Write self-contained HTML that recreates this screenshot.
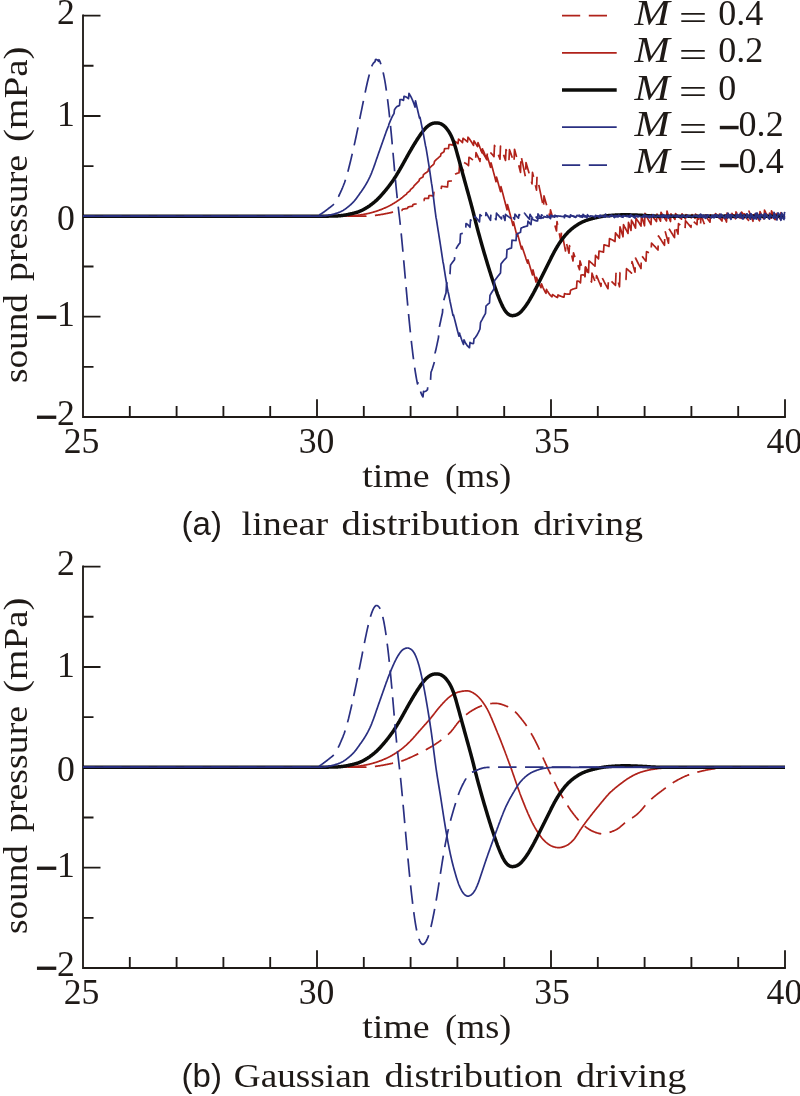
<!DOCTYPE html>
<html lang="en"><head><meta charset="utf-8"><title>Sound pressure vs time</title>
<style>
html,body{margin:0;padding:0;background:#fff;}
body{width:800px;height:1096px;overflow:hidden;}
svg{display:block;}
.t{font-family:"Liberation Serif","DejaVu Serif",serif;font-size:35.0px;fill:#1f1a17;}
.l{font-size:34px;}
.i{font-style:italic;}
.m{font-family:"Liberation Serif","DejaVu Serif",serif;font-size:35px;font-weight:bold;fill:#1f1a17;}
.s{font-family:"Liberation Sans","DejaVu Sans",sans-serif;font-size:33px;fill:#1f1a17;}
</style></head><body>
<svg width="800" height="1096" viewBox="0 0 800 1096">
<rect width="800" height="1096" fill="#fff"/>
<g id="plotA">
<path d="M83 14.60 V417.00 H785.9" fill="none" stroke="#1f1a17" stroke-width="1.85"/>
<path d="M83 15.60 h17.5M83 65.77 h10.5M83 115.95 h17.5M83 166.12 h10.5M83 216.30 h17.5M83 266.48 h10.5M83 316.65 h17.5M83 366.82 h10.5M129.80 417.00 v-11.0M176.60 417.00 v-11.0M223.40 417.00 v-11.0M270.20 417.00 v-11.0M317.00 417.00 v-17.7M363.80 417.00 v-11.0M410.60 417.00 v-11.0M457.40 417.00 v-11.0M504.20 417.00 v-11.0M551.00 417.00 v-17.7M597.80 417.00 v-11.0M644.60 417.00 v-11.0M691.40 417.00 v-11.0M738.20 417.00 v-11.0M785.00 417.00 v-17.7" fill="none" stroke="#1f1a17" stroke-width="1.85"/>
<path d="M83.0 216.2 L363.0 216.2 L364.0 216.2 L364.5 216.2 L365.0 216.2 L365.5 216.2 L366.0 216.2 L366.5 216.1 L367.0 216.1 L367.5 216.1 L368.0 216.1 L368.5 216.0 L369.0 216.0 L369.5 216.0 L370.0 215.9 L370.5 215.9 L371.0 215.8 L371.5 215.8 L372.0 215.8 L372.5 215.7 L373.0 215.6 L373.5 215.6 L374.0 215.5 L374.5 215.5 L375.0 215.4 L375.5 215.4 L376.0 215.3 L376.5 215.2 L377.0 215.2 L377.5 215.1 L378.0 215.0 L378.5 214.9 L379.0 214.9 L379.5 214.8 L380.0 214.7 L380.5 214.6 L381.0 214.5 L381.5 214.4 L382.0 214.4 L382.5 214.3 L383.0 214.2 L383.5 214.1 L384.0 214.0 L384.5 213.9 L385.0 213.8 L385.5 213.7 L386.0 213.6 L386.5 213.5 L387.0 213.4 L387.5 213.3 L388.0 213.2 L388.5 213.1 L389.0 213.0 L389.5 212.9 L390.0 212.8 L390.5 212.7 L391.0 212.6 L391.5 212.4 L392.0 212.3 L392.5 212.2 L393.0 212.1 L393.5 212.0 L394.0 211.9 L394.5 211.9 L395.0 211.8 L395.5 211.7 L396.0 211.2 L396.5 211.1 L397.0 211.1 L397.5 211.0 L398.0 210.9 L398.5 210.8 L399.0 210.7 L399.5 210.7 L400.0 210.6 L400.5 210.5 L401.0 210.4 L401.5 210.4 L402.0 210.3 L402.5 209.3 L403.0 209.2 L403.5 209.1 L404.0 209.0 L404.5 208.9 L405.0 208.8 L405.5 208.7 L406.0 208.6 L406.5 208.6 L407.0 208.5 L407.5 208.4 L408.0 207.0 L408.5 206.9 L409.0 206.8 L409.5 206.7 L410.0 206.6 L410.5 206.5 L411.0 206.4 L411.5 206.4 L412.0 206.3 L412.5 206.2 L413.0 204.5 L413.5 204.4 L414.0 204.3 L414.5 204.2 L415.0 204.1 L415.5 204.0 L416.0 204.0 L416.5 203.9 L417.0 203.8 L417.5 203.8 L418.0 203.7 L418.5 203.7 L419.0 201.8 L419.5 201.7 L420.0 201.5 L420.5 201.4 L421.0 201.2 L421.5 201.1 L422.0 201.0 L422.5 200.8 L423.0 200.7 L423.5 200.6 L424.0 200.5 L424.5 198.4 L425.0 198.4 L425.5 198.4 L426.5 198.4 L427.0 198.4 L427.5 198.4 L428.0 198.5 L428.5 198.5 L429.0 195.5 L429.5 195.5 L430.0 195.5 L430.5 195.6 L431.0 195.6 L431.5 195.7 L432.0 195.8 L432.5 195.9 L433.0 195.9 L433.5 196.0 L434.0 192.5 L434.5 192.3 L435.0 192.2 L435.5 192.1 L436.0 192.0 L436.5 191.9 L437.0 191.8 L437.5 191.7 L438.0 191.6 L438.5 191.5 L439.0 191.5 L439.5 191.4 L440.0 191.3 L440.5 191.2 L441.0 191.1 L441.5 186.3 L442.0 186.4 L442.5 186.4 L443.0 186.5 L443.5 186.5 L444.0 186.5 L444.5 186.6 L445.0 186.7 L445.5 186.7 L446.0 186.8 L446.5 186.9 L447.0 186.9 L447.5 187.0 L448.0 181.3 L448.5 181.3 L449.0 181.2 L449.5 181.2 L450.0 181.1 L450.5 181.0 L451.0 181.0 L451.5 180.9 L452.0 180.8 L452.5 180.7 L453.0 180.7 L453.5 175.2 L454.0 174.9 L454.5 174.6 L455.0 174.3 L455.5 174.0 L456.0 173.8 L456.5 173.6 L457.0 173.4 L457.5 173.2 L458.0 173.0 L458.5 172.9 L459.0 172.9 L459.5 165.4 L460.0 165.9 L460.5 166.5 L461.0 167.1 L461.5 167.7 L462.0 168.4 L462.5 169.2 L463.0 170.0 L463.5 170.8 L464.0 162.4 L464.5 162.7 L465.0 163.0 L465.5 163.2 L466.0 163.6 L466.5 163.9 L467.0 164.3 L467.5 164.7 L468.0 165.1 L468.5 165.6 L469.0 157.3 L469.5 157.5 L470.0 157.8 L470.5 158.2 L471.0 158.5 L471.5 158.9 L472.0 159.3 L472.5 159.7 L473.0 160.2 L473.5 160.6 L474.0 161.1 L474.5 161.6 L475.0 162.1 L475.5 162.6 L476.0 152.5 L476.5 153.6 L477.0 154.7 L477.5 155.7 L478.0 156.8 L478.5 157.9 L479.0 159.1 L479.5 160.2 L480.0 161.4 L480.5 149.6 L481.0 150.3 L481.5 151.0 L482.0 151.8 L482.5 152.5 L483.0 153.3 L483.5 154.0 L484.0 154.8 L484.5 155.6 L485.0 156.5 L485.5 157.3 L486.0 158.1 L486.5 159.0 L487.0 159.9 L487.5 149.3 L488.0 149.8 L488.5 150.4 L489.0 150.9 L489.5 151.4 L490.0 152.0 L490.5 152.5 L491.0 153.1 L491.5 153.6 L492.0 154.2 L492.5 154.8 L493.0 155.4 L493.5 156.0 L494.0 156.6 L494.5 145.3 L495.0 146.5 L495.5 147.7 L496.0 148.9 L496.5 150.1 L497.0 151.3 L497.5 152.6 L498.0 153.9 L498.5 155.1 L499.0 156.5 L499.5 157.8 L500.0 159.1 L500.5 146.0 L501.0 147.4 L501.5 148.8 L502.0 150.2 L502.5 151.6 L503.0 153.0 L503.5 154.5 L504.0 155.9 L504.5 157.4 L505.0 158.9 L505.5 160.4 L506.0 149.6 L506.5 151.2 L507.0 152.9 L507.5 154.5 L508.0 156.2 L508.5 157.9 L509.0 159.5 L509.5 149.7 L510.0 151.1 L510.5 152.5 L511.0 153.9 L511.5 155.4 L512.0 156.8 L512.5 158.3 L513.0 159.8 L513.5 161.3 L514.0 162.9 L514.5 149.3 L515.0 151.1 L515.5 152.9 L516.0 154.7 L516.5 156.6 L517.0 158.5 L517.5 160.4 L518.0 162.3 L518.5 164.3 L519.0 166.3 L519.5 168.3 L520.0 170.4 L520.5 172.4 L521.0 155.5 L521.5 157.9 L522.0 160.3 L522.5 162.7 L523.0 165.1 L523.5 167.5 L524.0 169.9 L524.5 172.3 L525.0 174.8 L525.5 177.2 L526.0 162.5 L526.5 164.3 L527.0 166.0 L527.5 167.7 L528.0 169.4 L528.5 171.2 L529.0 173.0 L529.5 174.8 L530.0 176.6 L530.5 178.4 L531.0 180.2 L531.5 182.0 L532.0 183.9 L532.5 172.4 L533.0 174.6 L533.5 176.8 L534.0 179.0 L534.5 181.2 L535.0 183.4 L535.5 185.6 L536.0 187.9 L536.5 190.1 L537.0 176.6 L537.5 178.9 L538.0 181.2 L538.5 183.6 L539.0 185.9 L539.5 188.3 L540.0 190.6 L540.5 193.1 L541.0 195.5 L541.5 198.0 L542.0 200.4 L542.5 202.9 L543.0 205.5 L543.5 208.0 L544.0 195.9 L544.5 197.7 L545.0 199.4 L545.5 201.2 L546.0 203.0 L546.5 204.7 L547.0 206.5 L547.5 208.2 L548.0 210.0 L548.5 211.8 L549.0 213.5 L549.5 215.2 L550.0 217.0 L550.5 209.9 L551.0 211.7 L551.5 213.5 L552.0 215.2 L552.5 217.0 L553.0 218.7 L553.5 220.5 L554.0 222.2 L554.5 224.0 L555.0 225.7 L555.5 227.4 L556.0 229.2 L556.5 230.9 L557.0 221.5 L557.5 224.1 L558.0 226.7 L558.5 229.3 L559.0 231.9 L559.5 234.4 L560.0 237.0 L560.5 239.5 L561.0 242.1 L561.5 230.3 L562.0 232.9 L562.5 235.5 L563.0 238.1 L563.5 240.7 L564.0 243.3 L564.5 245.9 L565.0 248.5 L565.5 251.0 L566.0 241.5 L566.5 243.4 L567.0 245.4 L567.5 247.4 L568.0 249.3 L568.5 251.3 L569.0 253.2 L569.5 245.7 L570.0 247.9 L570.5 250.1 L571.0 252.3 L571.5 254.5 L572.0 256.6 L572.5 258.8 L573.0 261.0 L573.5 252.8 L574.0 254.3 L574.5 255.7 L575.0 257.2 L575.5 258.6 L576.0 260.0 L576.5 261.4 L577.0 262.8 L577.5 264.2 L578.0 265.5 L578.5 266.9 L579.0 268.3 L579.5 269.6 L580.0 260.9 L580.5 262.5 L581.0 264.2 L581.5 265.8 L582.0 267.4 L582.5 269.0 L583.0 270.6 L583.5 272.2 L584.0 273.7 L584.5 275.3 L585.0 276.8 L585.5 267.4 L586.0 268.7 L586.5 270.0 L587.0 271.2 L587.5 272.5 L588.0 273.7 L588.5 274.9 L589.0 276.1 L589.5 277.3 L590.0 278.5 L590.5 279.7 L591.0 280.8 L591.5 282.0 L592.0 273.2 L592.5 274.6 L593.0 276.0 L593.5 277.3 L594.0 278.7 L594.5 280.0 L595.0 281.4 L595.5 282.7 L596.0 284.0 L596.5 275.5 L597.0 276.7 L597.5 277.9 L598.0 279.2 L598.5 280.4 L599.0 281.6 L599.5 282.7 L600.0 283.9 L600.5 285.1 L601.0 286.3 L601.5 276.2 L602.0 277.2 L602.5 278.3 L603.0 279.3 L603.5 280.3 L604.0 281.4 L604.5 282.3 L605.0 283.3 L605.5 284.3 L606.0 285.2 L606.5 286.1 L607.0 287.0 L607.5 287.9 L608.0 288.7 L608.5 278.2 L609.0 278.8 L609.5 279.3 L610.0 279.9 L610.5 280.4 L611.0 280.9 L611.5 281.4 L612.0 281.9 L612.5 282.4 L613.0 282.9 L613.5 283.4 L614.0 283.9 L614.5 284.4 L615.0 284.8 L615.5 285.3 L616.0 273.4 L616.5 275.4 L617.0 277.3 L617.5 279.2 L618.0 281.1 L618.5 283.0 L619.0 284.9 L619.5 286.8 L620.0 272.7 L620.5 273.4 L621.0 274.0 L621.5 274.7 L622.0 275.3 L622.5 275.8 L623.0 276.4 L623.5 276.9 L624.0 277.4 L624.5 277.9 L625.0 278.4 L625.5 278.9 L626.0 279.4 L626.5 268.7 L627.0 269.1 L627.5 269.5 L628.0 269.9 L628.5 270.3 L629.0 270.8 L629.5 271.2 L630.0 271.7 L630.5 272.2 L631.0 272.6 L631.5 273.1 L632.0 261.5 L632.5 263.3 L633.0 265.1 L633.5 266.9 L634.0 268.6 L634.5 270.4 L635.0 272.1 L635.5 258.0 L636.0 259.0 L636.5 260.0 L637.0 261.0 L637.5 262.0 L638.0 263.0 L638.5 264.0 L639.0 264.9 L639.5 265.8 L640.0 266.7 L640.5 267.6 L641.0 268.5 L641.5 255.2 L642.0 256.0 L642.5 256.7 L643.0 257.4 L643.5 258.0 L644.0 258.7 L644.5 259.3 L645.0 260.0 L645.5 260.6 L646.0 261.2 L646.5 251.7 L647.0 251.9 L647.5 252.1 L648.0 252.3 L648.5 252.5 L649.0 252.7 L649.5 252.9 L650.0 253.1 L650.5 253.4 L651.0 253.7 L651.5 243.0 L652.0 243.5 L652.5 244.0 L653.0 244.5 L653.5 245.1 L654.0 245.6 L654.5 246.1 L655.0 246.7 L655.5 247.2 L656.0 247.8 L656.5 248.3 L657.0 248.9 L657.5 249.4 L658.0 250.0 L658.5 235.9 L659.0 236.7 L659.5 237.5 L660.0 238.3 L660.5 239.1 L661.0 239.8 L661.5 240.6 L662.0 241.4 L662.5 242.2 L663.0 243.0 L663.5 243.8 L664.0 244.5 L664.5 245.3 L665.0 230.9 L665.5 232.6 L666.0 234.4 L666.5 236.2 L667.0 238.0 L667.5 239.7 L668.0 241.5 L668.5 243.2 L669.0 228.7 L669.5 229.5 L670.0 230.3 L670.5 231.1 L671.0 231.9 L671.5 232.7 L672.0 233.5 L672.5 234.3 L673.0 235.2 L673.5 236.0 L674.0 236.8 L674.5 237.6 L675.0 225.1 L675.5 226.6 L676.0 228.1 L676.5 229.6 L677.0 231.1 L677.5 232.6 L678.0 234.1 L678.5 223.5 L679.0 224.0 L679.5 224.5 L680.0 224.9 L680.5 225.4 L681.0 225.9 L681.5 226.4 L682.0 226.9 L682.5 227.4 L683.0 227.9 L683.5 228.4 L684.0 228.9 L684.5 229.4 L685.0 229.9 L685.5 220.7 L686.0 221.3 L686.5 221.9 L687.0 222.5 L687.5 223.1 L688.0 223.7 L688.5 224.3 L689.0 224.9 L689.5 225.5 L690.0 226.1 L690.5 226.7 L691.0 227.3 L691.5 219.5 L692.0 220.0 L692.5 220.4 L693.0 220.9 L693.5 221.4 L694.0 221.8 L694.5 222.3 L695.0 222.8 L695.5 223.2 L696.0 223.7 L696.5 224.2 L697.0 224.6 L697.5 215.3 L698.0 217.1 L698.5 218.8 L699.0 220.6 L699.5 222.4 L700.0 224.2 L700.5 225.9 L701.0 215.0 L701.5 216.3 L702.0 217.7 L702.5 219.0 L703.0 220.4 L703.5 221.7 L704.0 223.1 L704.5 224.4 L705.0 215.3 L705.5 216.0 L706.0 216.7 L706.5 217.4 L707.0 218.1 L707.5 218.8 L708.0 219.5 L708.5 220.1 L709.0 220.8 L709.5 221.5 L710.0 222.2 L710.5 214.9 L711.0 215.5 L711.5 216.2 L712.0 216.8 L712.5 217.5 L713.0 218.1 L713.5 218.8 L714.0 219.4 L714.5 220.1 L715.0 220.7 L715.5 213.5 L716.0 214.1 L716.5 214.7 L717.0 215.2 L717.5 215.8 L718.0 216.4 L718.5 217.0 L719.0 217.5 L719.5 218.1 L720.0 218.7 L720.5 219.2 L721.0 219.8 L721.5 220.4 L722.0 221.0 L722.5 211.9 L723.0 213.1 L723.5 214.4 L724.0 215.6 L724.5 216.9 L725.0 218.2 L725.5 219.4 L726.0 220.7 L726.5 222.0 L727.0 213.1 L727.5 213.8 L728.0 214.6 L728.5 215.3 L729.0 216.0 L729.5 216.8 L730.0 217.5 L730.5 218.2 L731.0 219.0 L731.5 219.7 L732.0 213.4 L732.5 214.2 L733.0 214.9 L733.5 215.7 L734.0 216.5 L734.5 217.3 L735.0 218.0 L735.5 218.8 L736.0 211.9 L736.5 212.7 L737.0 213.5 L737.5 214.3 L738.0 215.1 L738.5 215.9 L739.0 216.8 L739.5 217.6 L740.0 218.4 L740.5 219.2 L741.0 220.0 L741.5 212.0 L742.0 212.6 L742.5 213.2 L743.0 213.8 L743.5 214.4 L744.0 215.0 L744.5 215.6 L745.0 216.2 L745.5 216.8 L746.0 217.4 L746.5 218.0 L747.0 218.6 L747.5 219.2 L748.0 219.8 L748.5 220.4 L749.0 211.2 L749.5 212.5 L750.0 213.7 L750.5 215.0 L751.0 216.3 L751.5 217.5 L752.0 218.8 L752.5 220.0 L753.0 221.3 L753.5 211.3 L754.0 212.1 L754.5 212.9 L755.0 213.7 L755.5 214.5 L756.0 215.3 L756.5 216.1 L757.0 216.9 L757.5 217.7 L758.0 218.4 L758.5 219.2 L759.0 220.0 L759.5 220.8 L760.0 211.5 L760.5 212.7 L761.0 213.9 L761.5 215.0 L762.0 216.2 L762.5 217.4 L763.0 218.5 L763.5 219.7 L764.0 220.9 L764.5 210.1 L765.0 211.1 L765.5 212.1 L766.0 213.1 L766.5 214.0 L767.0 215.0 L767.5 216.0 L768.0 217.0 L768.5 218.0 L769.0 219.0 L769.5 220.0 L770.0 221.0 L770.5 221.9 L771.0 222.9 L771.5 210.8 L772.0 211.9 L772.5 213.1 L773.0 214.2 L773.5 215.4 L774.0 216.5 L774.5 217.7 L775.0 218.8 L775.5 220.0 L776.0 221.1 L776.5 222.3 L777.0 213.3 L777.5 214.2 L778.0 215.1 L778.5 215.9 L779.0 216.8 L779.5 217.7 L780.0 218.5 L780.5 219.4 L781.0 212.6 L781.5 213.2 L782.0 213.8 L782.5 214.4 L783.0 215.0 L783.5 215.6 L784.0 216.2 L784.5 216.8 L785.0 217.4" fill="none" stroke="#b0221a" stroke-width="1.70" stroke-linejoin="round" stroke-dasharray="18.5 8.5" stroke-dashoffset="5.0"/>
<path d="M83.0 216.2 L336.5 216.2 L338.0 216.2 L339.0 216.2 L340.0 216.2 L341.0 216.2 L342.0 216.2 L343.0 216.1 L343.5 216.1 L344.0 216.1 L344.5 216.1 L345.0 216.1 L345.5 216.1 L346.0 216.1 L346.5 216.1 L347.0 216.0 L347.5 216.0 L348.0 216.0 L348.5 216.0 L349.0 216.0 L349.5 215.9 L350.0 215.9 L350.5 215.9 L351.0 215.8 L351.5 215.8 L352.0 215.8 L352.5 215.7 L353.0 215.7 L353.5 215.7 L354.0 215.6 L354.5 215.6 L355.0 215.5 L355.5 215.5 L356.0 215.4 L356.5 215.4 L357.0 215.3 L357.5 215.3 L358.0 215.2 L358.5 215.2 L359.0 215.1 L359.5 215.0 L360.0 215.0 L360.5 214.9 L361.0 214.8 L361.5 214.7 L362.0 214.7 L362.5 214.6 L363.0 214.5 L363.5 214.4 L364.0 214.3 L364.5 214.2 L365.0 214.1 L365.5 214.0 L366.0 213.9 L366.5 213.8 L367.0 213.7 L367.5 213.6 L368.0 213.5 L368.5 213.4 L369.0 213.3 L369.5 213.2 L370.0 213.0 L370.5 212.9 L371.0 212.8 L371.5 212.6 L372.0 212.5 L372.5 212.4 L373.0 212.2 L373.5 212.1 L374.0 211.9 L374.5 211.8 L375.0 211.6 L375.5 211.5 L376.0 211.3 L376.5 211.2 L377.0 211.0 L377.5 210.8 L378.0 210.7 L378.5 210.5 L379.0 210.3 L379.5 210.1 L380.0 209.9 L380.5 209.7 L381.0 209.6 L381.5 209.4 L382.0 209.2 L382.5 208.9 L383.0 208.7 L383.5 208.5 L384.0 208.3 L384.5 208.1 L385.0 207.9 L385.5 207.7 L386.0 207.4 L386.5 207.2 L387.0 207.0 L387.5 206.7 L388.0 206.5 L388.5 206.2 L389.0 206.0 L389.5 205.7 L390.0 205.5 L390.5 205.2 L391.0 204.9 L391.5 204.7 L392.0 204.4 L392.5 204.1 L393.0 203.8 L393.5 203.5 L394.0 203.2 L394.5 202.9 L395.0 202.6 L395.5 202.3 L396.0 202.0 L396.5 201.6 L397.0 201.3 L397.5 201.0 L398.0 200.6 L398.5 200.3 L399.0 199.9 L399.5 199.6 L400.0 199.2 L400.5 198.9 L401.0 198.5 L401.5 198.1 L402.0 197.8 L402.5 197.4 L403.0 196.8 L403.5 196.4 L404.0 196.0 L404.5 195.6 L405.0 195.2 L405.5 194.8 L406.0 194.5 L406.5 194.1 L407.0 193.1 L407.5 192.7 L408.0 192.3 L408.5 191.9 L409.0 191.6 L409.5 191.2 L410.0 190.8 L410.5 189.7 L411.0 189.2 L411.5 188.8 L412.0 188.4 L412.5 187.9 L413.0 187.5 L413.5 187.0 L414.0 185.8 L414.5 185.3 L415.0 184.8 L415.5 184.3 L416.0 183.8 L416.5 183.3 L417.0 182.8 L417.5 182.3 L418.0 181.8 L418.5 181.3 L419.0 180.9 L419.5 179.1 L420.0 178.7 L420.5 178.4 L421.0 178.1 L421.5 177.8 L422.0 177.5 L422.5 177.2 L423.0 176.9 L423.5 174.5 L424.0 174.2 L424.5 173.8 L425.0 173.4 L425.5 173.1 L426.0 172.7 L426.5 172.4 L427.0 172.0 L427.5 171.7 L428.0 171.3 L428.5 168.9 L429.0 168.5 L429.5 168.0 L430.0 167.6 L430.5 167.1 L431.0 166.7 L431.5 166.2 L432.0 165.7 L432.5 165.3 L433.0 164.8 L433.5 164.3 L434.0 163.9 L434.5 161.4 L435.0 160.9 L435.5 160.4 L436.0 159.9 L436.5 159.4 L437.0 159.0 L437.5 158.5 L438.0 158.1 L438.5 157.6 L439.0 157.2 L439.5 156.8 L440.0 156.4 L440.5 156.0 L441.0 153.7 L441.5 153.4 L442.0 153.1 L442.5 152.7 L443.0 152.4 L443.5 152.1 L444.0 151.8 L444.5 148.8 L445.0 148.7 L445.5 148.6 L446.0 148.6 L446.5 148.5 L447.0 148.5 L447.5 148.5 L448.0 148.5 L448.5 148.6 L449.0 144.7 L449.5 144.7 L450.0 144.7 L450.5 144.7 L451.0 144.7 L451.5 144.8 L452.0 144.9 L452.5 145.0 L453.0 145.2 L453.5 140.9 L454.0 141.1 L454.5 141.3 L455.0 141.5 L455.5 141.8 L456.0 142.1 L456.5 142.5 L457.0 142.9 L457.5 143.3 L458.0 143.7 L458.5 139.1 L459.0 139.5 L459.5 139.9 L460.0 140.3 L460.5 140.7 L461.0 141.1 L461.5 141.6 L462.0 142.1 L462.5 142.6 L463.0 138.3 L463.5 138.6 L464.0 139.0 L464.5 139.3 L465.0 139.7 L465.5 140.2 L466.0 140.6 L466.5 141.0 L467.0 141.5 L467.5 142.0 L468.0 137.2 L468.5 137.8 L469.0 138.4 L469.5 139.1 L470.0 139.8 L470.5 140.5 L471.0 141.2 L471.5 142.0 L472.0 142.8 L472.5 143.7 L473.0 144.5 L473.5 145.4 L474.0 140.9 L474.5 141.7 L475.0 142.5 L475.5 143.3 L476.0 144.1 L476.5 144.9 L477.0 145.8 L477.5 146.7 L478.0 142.7 L478.5 143.9 L479.0 145.1 L479.5 146.3 L480.0 147.6 L480.5 148.8 L481.0 150.1 L481.5 151.4 L482.0 152.8 L482.5 148.8 L483.0 150.0 L483.5 151.1 L484.0 152.3 L484.5 153.5 L485.0 154.8 L485.5 156.0 L486.0 157.3 L486.5 158.7 L487.0 155.3 L487.5 156.9 L488.0 158.6 L488.5 160.2 L489.0 162.0 L489.5 163.7 L490.0 165.5 L490.5 167.3 L491.0 162.8 L491.5 164.6 L492.0 166.5 L492.5 168.3 L493.0 170.2 L493.5 172.1 L494.0 174.0 L494.5 175.9 L495.0 177.9 L495.5 179.8 L496.0 181.7 L496.5 177.0 L497.0 178.8 L497.5 180.6 L498.0 182.4 L498.5 184.2 L499.0 186.1 L499.5 187.9 L500.0 189.8 L500.5 191.6 L501.0 186.7 L501.5 188.6 L502.0 190.5 L502.5 192.4 L503.0 194.3 L503.5 196.2 L504.0 198.2 L504.5 200.1 L505.0 202.0 L505.5 204.0 L506.0 205.9 L506.5 207.9 L507.0 209.8 L507.5 204.5 L508.0 206.4 L508.5 208.3 L509.0 210.2 L509.5 212.1 L510.0 214.0 L510.5 215.9 L511.0 217.8 L511.5 219.7 L512.0 221.6 L512.5 223.6 L513.0 225.5 L513.5 221.8 L514.0 223.8 L514.5 225.9 L515.0 228.0 L515.5 230.0 L516.0 232.1 L516.5 234.2 L517.0 236.2 L517.5 233.3 L518.0 235.4 L518.5 237.4 L519.0 239.3 L519.5 241.3 L520.0 243.3 L520.5 245.2 L521.0 247.1 L521.5 249.0 L522.0 246.4 L522.5 248.0 L523.0 249.5 L523.5 251.1 L524.0 252.6 L524.5 254.1 L525.0 255.6 L525.5 257.1 L526.0 258.7 L526.5 260.1 L527.0 261.6 L527.5 263.1 L528.0 259.9 L528.5 261.6 L529.0 263.4 L529.5 265.1 L530.0 266.8 L530.5 268.5 L531.0 270.1 L531.5 271.8 L532.0 273.4 L532.5 275.0 L533.0 269.9 L533.5 272.0 L534.0 274.0 L534.5 276.1 L535.0 278.1 L535.5 280.1 L536.0 282.1 L536.5 277.3 L537.0 278.5 L537.5 279.7 L538.0 280.9 L538.5 282.1 L539.0 283.3 L539.5 284.5 L540.0 285.6 L540.5 286.7 L541.0 287.7 L541.5 283.9 L542.0 285.1 L542.5 286.3 L543.0 287.5 L543.5 288.6 L544.0 289.7 L544.5 290.6 L545.0 291.6 L545.5 292.5 L546.0 293.3 L546.5 289.3 L547.0 290.3 L547.5 291.2 L548.0 292.0 L548.5 292.8 L549.0 293.6 L549.5 294.2 L550.0 294.9 L550.5 295.5 L551.0 296.0 L551.5 296.4 L552.0 296.8 L552.5 294.5 L553.0 294.8 L553.5 295.2 L554.0 295.5 L554.5 295.8 L555.0 296.2 L555.5 296.5 L556.0 296.8 L556.5 297.1 L557.0 297.3 L557.5 297.6 L558.0 294.9 L558.5 295.2 L559.0 295.4 L559.5 295.7 L560.0 295.9 L560.5 296.1 L561.0 296.3 L561.5 296.5 L562.0 296.7 L562.5 296.8 L563.0 296.9 L563.5 297.1 L564.0 297.2 L564.5 293.7 L565.0 293.8 L565.5 293.9 L566.0 294.0 L566.5 294.0 L567.0 294.1 L567.5 294.1 L568.0 294.2 L568.5 294.2 L569.0 294.1 L569.5 294.1 L570.0 294.0 L570.5 290.4 L571.0 290.1 L571.5 289.8 L572.0 289.6 L572.5 289.3 L573.0 289.1 L573.5 289.0 L574.0 288.8 L574.5 288.6 L575.0 288.5 L575.5 288.4 L576.0 288.2 L576.5 288.1 L577.0 281.0 L577.5 281.0 L578.0 281.1 L578.5 281.3 L579.0 281.5 L579.5 281.9 L580.0 282.3 L580.5 282.8 L581.0 275.1 L581.5 275.0 L582.0 274.9 L582.5 274.9 L583.0 275.0 L583.5 275.0 L584.0 275.2 L584.5 275.3 L585.0 275.5 L585.5 266.8 L586.0 267.7 L586.5 268.7 L587.0 269.6 L587.5 270.6 L588.0 271.6 L588.5 272.6 L589.0 260.8 L589.5 261.2 L590.0 261.6 L590.5 262.1 L591.0 262.5 L591.5 263.0 L592.0 263.4 L592.5 263.9 L593.0 264.3 L593.5 264.8 L594.0 265.2 L594.5 265.7 L595.0 266.2 L595.5 255.4 L596.0 256.0 L596.5 256.5 L597.0 257.1 L597.5 257.7 L598.0 258.3 L598.5 258.9 L599.0 251.1 L599.5 251.2 L600.0 251.3 L600.5 251.4 L601.0 251.5 L601.5 251.6 L602.0 251.7 L602.5 251.8 L603.0 251.9 L603.5 252.1 L604.0 244.8 L604.5 244.9 L605.0 245.0 L605.5 245.2 L606.0 245.3 L606.5 245.5 L607.0 245.6 L607.5 245.8 L608.0 246.0 L608.5 246.2 L609.0 246.4 L609.5 238.6 L610.0 238.8 L610.5 239.0 L611.0 239.2 L611.5 239.5 L612.0 239.7 L612.5 240.0 L613.0 240.3 L613.5 240.6 L614.0 240.9 L614.5 241.2 L615.0 241.5 L615.5 232.8 L616.0 233.5 L616.5 234.1 L617.0 234.7 L617.5 235.4 L618.0 236.0 L618.5 236.7 L619.0 237.4 L619.5 238.0 L620.0 226.8 L620.5 228.4 L621.0 230.1 L621.5 231.8 L622.0 233.4 L622.5 235.1 L623.0 236.8 L623.5 224.7 L624.0 225.6 L624.5 226.6 L625.0 227.5 L625.5 228.5 L626.0 229.5 L626.5 230.4 L627.0 231.4 L627.5 232.4 L628.0 233.4 L628.5 222.4 L629.0 224.0 L629.5 225.6 L630.0 227.2 L630.5 228.8 L631.0 230.4 L631.5 220.1 L632.0 221.1 L632.5 222.0 L633.0 223.0 L633.5 224.0 L634.0 225.0 L634.5 226.0 L635.0 227.1 L635.5 228.1 L636.0 218.2 L636.5 218.9 L637.0 219.7 L637.5 220.4 L638.0 221.2 L638.5 222.0 L639.0 222.8 L639.5 223.6 L640.0 224.5 L640.5 225.3 L641.0 226.1 L641.5 215.4 L642.0 217.2 L642.5 218.9 L643.0 220.7 L643.5 222.4 L644.0 224.1 L644.5 225.8 L645.0 213.4 L645.5 214.4 L646.0 215.3 L646.5 216.3 L647.0 217.3 L647.5 218.2 L648.0 219.2 L648.5 220.1 L649.0 221.0 L649.5 221.9 L650.0 222.8 L650.5 223.7 L651.0 224.5 L651.5 214.6 L652.0 215.3 L652.5 216.1 L653.0 216.8 L653.5 217.5 L654.0 218.2 L654.5 218.9 L655.0 219.6 L655.5 220.3 L656.0 220.9 L656.5 221.6 L657.0 214.0 L657.5 215.1 L658.0 216.1 L658.5 217.2 L659.0 218.2 L659.5 219.2 L660.0 220.2 L660.5 221.2 L661.0 212.3 L661.5 213.1 L662.0 214.0 L662.5 214.8 L663.0 215.6 L663.5 216.4 L664.0 217.2 L664.5 218.0 L665.0 218.7 L665.5 219.5 L666.0 220.2 L666.5 220.9 L667.0 211.1 L667.5 212.7 L668.0 214.2 L668.5 215.7 L669.0 217.2 L669.5 218.7 L670.0 220.1 L670.5 221.5 L671.0 213.9 L671.5 214.7 L672.0 215.4 L672.5 216.1 L673.0 216.8 L673.5 217.4 L674.0 218.1 L674.5 218.7 L675.0 219.4 L675.5 213.7 L676.0 214.2 L676.5 214.7 L677.0 215.2 L677.5 215.7 L678.0 216.2 L678.5 216.6 L679.0 217.1 L679.5 217.5 L680.0 217.9 L680.5 218.3 L681.0 218.7 L681.5 219.1 L682.0 213.8 L682.5 214.6 L683.0 215.4 L683.5 216.1 L684.0 216.9 L684.5 217.6 L685.0 218.2 L685.5 218.9 L686.0 214.6 L686.5 215.0 L687.0 215.3 L687.5 215.6 L688.0 215.9 L688.5 216.2 L689.0 216.5 L689.5 216.8 L690.0 217.1 L690.5 217.3 L691.0 217.6 L691.5 217.8 L692.0 214.5 L692.5 215.2 L693.0 215.9 L693.5 216.5 L694.0 217.1 L694.5 217.7 L695.0 218.3 L695.5 214.1 L696.0 214.6 L696.5 215.2 L697.0 215.7 L697.5 216.1 L698.0 216.6 L698.5 217.0 L699.0 217.4 L699.5 217.8 L700.0 218.2 L700.5 215.2 L701.0 215.4 L701.5 215.6 L702.0 215.8 L702.5 216.0 L703.0 216.3 L703.5 216.5 L704.0 216.7 L704.5 217.0 L705.0 217.2 L705.5 217.4 L706.0 214.9 L706.5 215.3 L707.0 215.7 L707.5 216.1 L708.0 216.5 L708.5 216.9 L709.0 217.3 L709.5 217.7 L710.0 215.3 L710.5 215.5 L711.0 215.8 L711.5 216.0 L712.0 216.3 L712.5 216.6 L713.0 216.8 L713.5 217.1 L714.0 217.3 L714.5 214.8 L715.0 215.1 L715.5 215.5 L716.0 215.8 L716.5 216.1 L717.0 216.4 L717.5 216.8 L718.0 217.1 L718.5 217.5 L719.0 217.8 L719.5 214.1 L720.0 214.5 L720.5 214.9 L721.0 215.4 L721.5 215.8 L722.0 216.3 L722.5 216.8 L723.0 217.2 L723.5 217.7 L724.0 218.1 L724.5 218.6 L725.0 214.8 L725.5 215.3 L726.0 215.8 L726.5 216.2 L727.0 216.7 L727.5 217.2 L728.0 217.7 L728.5 214.9 L729.0 215.2 L729.5 215.5 L730.0 215.8 L730.5 216.1 L731.0 216.4 L731.5 216.7 L732.0 217.0 L732.5 217.3 L733.0 217.7 L733.5 214.8 L734.0 215.1 L734.5 215.3 L735.0 215.5 L735.5 215.8 L736.0 216.0 L736.5 216.3 L737.0 216.5 L737.5 216.8 L738.0 217.0 L738.5 217.3 L739.0 217.5 L739.5 217.8 L740.0 214.2 L740.5 214.7 L741.0 215.2 L741.5 215.7 L742.0 216.2 L742.5 216.7 L743.0 217.2 L743.5 217.7 L744.0 218.3 L744.5 213.9 L745.0 214.3 L745.5 214.8 L746.0 215.2 L746.5 215.6 L747.0 216.1 L747.5 216.5 L748.0 216.9 L748.5 217.4 L749.0 217.8 L749.5 218.3 L750.0 218.7 L750.5 214.5 L751.0 215.0 L751.5 215.5 L752.0 216.1 L752.5 216.6 L753.0 217.1 L753.5 217.6 L754.0 218.1 L754.5 214.4 L755.0 214.9 L755.5 215.3 L756.0 215.7 L756.5 216.2 L757.0 216.6 L757.5 217.1 L758.0 217.5 L758.5 217.9 L759.0 218.4 L759.5 214.0 L760.0 214.6 L760.5 215.1 L761.0 215.6 L761.5 216.2 L762.0 216.7 L762.5 217.3 L763.0 217.8 L763.5 218.4 L764.0 219.0 L764.5 214.9 L765.0 215.2 L765.5 215.5 L766.0 215.8 L766.5 216.1 L767.0 216.4 L767.5 216.7 L768.0 217.0 L768.5 217.3 L769.0 217.6 L769.5 213.2 L770.0 213.7 L770.5 214.3 L771.0 214.8 L771.5 215.4 L772.0 215.9 L772.5 216.5 L773.0 217.0 L773.5 217.6 L774.0 218.1 L774.5 218.7 L775.0 219.3 L775.5 214.2 L776.0 214.5 L776.5 214.9 L777.0 215.3 L777.5 215.7 L778.0 216.1 L778.5 216.5 L779.0 216.9 L779.5 217.3 L780.0 217.7 L780.5 218.1 L781.0 218.5 L781.5 214.3 L782.0 214.7 L782.5 215.1 L783.0 215.4 L783.5 215.8 L784.0 216.2 L784.5 216.6 L785.0 217.0" fill="none" stroke="#b0221a" stroke-width="1.70" stroke-linejoin="round"/>
<path d="M83.0 216.2 L321.5 216.2 L323.0 216.2 L324.0 216.2 L325.0 216.2 L326.0 216.2 L327.0 216.2 L328.0 216.2 L329.0 216.1 L330.0 216.1 L330.5 216.1 L331.0 216.1 L331.5 216.1 L332.0 216.1 L332.5 216.1 L333.0 216.1 L333.5 216.0 L334.0 216.0 L334.5 216.0 L335.0 216.0 L335.5 216.0 L336.0 216.0 L336.5 215.9 L337.0 215.9 L337.5 215.9 L338.0 215.9 L338.5 215.8 L339.0 215.8 L339.5 215.8 L340.0 215.7 L340.5 215.7 L341.0 215.6 L341.5 215.6 L342.0 215.5 L342.5 215.4 L343.0 215.4 L343.5 215.3 L344.0 215.2 L344.5 215.1 L345.0 215.0 L345.5 214.9 L346.0 214.9 L346.5 214.8 L347.0 214.7 L347.5 214.6 L348.0 214.5 L348.5 214.4 L349.0 214.2 L349.5 214.1 L350.0 214.0 L350.5 213.9 L351.0 213.8 L351.5 213.7 L352.0 213.6 L352.5 213.5 L353.0 213.4 L353.5 213.2 L354.0 213.1 L354.5 213.0 L355.0 212.9 L355.5 212.7 L356.0 212.6 L356.5 212.4 L357.0 212.3 L357.5 212.1 L358.0 212.0 L358.5 211.8 L359.0 211.6 L359.5 211.4 L360.0 211.2 L360.5 211.0 L361.0 210.7 L361.5 210.5 L362.0 210.3 L362.5 210.0 L363.0 209.8 L363.5 209.5 L364.0 209.2 L364.5 208.9 L365.0 208.7 L365.5 208.4 L366.0 208.1 L366.5 207.8 L367.0 207.5 L367.5 207.2 L368.0 206.8 L368.5 206.5 L369.0 206.2 L369.5 205.9 L370.0 205.5 L370.5 205.1 L371.0 204.8 L371.5 204.4 L372.0 204.0 L372.5 203.6 L373.0 203.2 L373.5 202.8 L374.0 202.4 L374.5 202.0 L375.0 201.6 L375.5 201.1 L376.0 200.7 L376.5 200.2 L377.0 199.8 L377.5 199.3 L378.0 198.8 L378.5 198.3 L379.0 197.8 L379.5 197.3 L380.0 196.7 L380.5 196.2 L381.0 195.6 L381.5 195.1 L382.0 194.5 L382.5 193.9 L383.0 193.3 L383.5 192.8 L384.0 192.2 L384.5 191.6 L385.0 191.0 L385.5 190.4 L386.0 189.8 L386.5 189.2 L387.0 188.5 L387.5 187.9 L388.0 187.3 L388.5 186.6 L389.0 186.0 L389.5 185.3 L390.0 184.7 L390.5 184.0 L391.0 183.3 L391.5 182.6 L392.0 181.9 L392.5 181.2 L393.0 180.5 L393.5 179.7 L394.0 179.0 L394.5 178.2 L395.0 177.4 L395.5 176.7 L396.0 175.9 L396.5 175.1 L397.0 174.2 L397.5 173.4 L398.0 172.6 L398.5 171.8 L399.0 170.9 L399.5 170.1 L400.0 169.2 L400.5 168.3 L401.0 167.5 L401.5 166.6 L402.0 165.7 L402.5 164.8 L403.0 163.9 L403.5 163.0 L404.0 162.1 L404.5 161.2 L405.0 160.3 L405.5 159.4 L406.0 158.5 L406.5 157.6 L407.0 156.7 L407.5 155.8 L408.0 154.9 L408.5 154.0 L409.0 153.1 L409.5 152.3 L410.0 151.4 L410.5 150.5 L411.0 149.7 L411.5 148.8 L412.0 148.0 L412.5 147.1 L413.0 146.3 L413.5 145.5 L414.0 144.6 L414.5 143.8 L415.0 143.0 L415.5 142.2 L416.0 141.4 L416.5 140.6 L417.0 139.8 L417.5 139.0 L418.0 138.2 L418.5 137.5 L419.0 136.7 L419.5 136.0 L420.0 135.2 L420.5 134.5 L421.0 133.8 L421.5 133.1 L422.0 132.5 L422.5 131.8 L423.0 131.2 L423.5 130.6 L424.0 130.0 L424.5 129.4 L425.0 128.8 L425.5 128.3 L426.0 127.8 L426.5 127.3 L427.0 126.8 L427.5 126.4 L428.0 126.0 L428.5 125.6 L429.0 125.2 L429.5 124.9 L430.0 124.6 L430.5 124.3 L431.0 124.1 L431.5 123.8 L432.0 123.6 L432.5 123.5 L433.0 123.3 L433.5 123.2 L434.0 123.1 L434.5 123.0 L435.0 122.9 L435.5 122.9 L436.0 122.9 L436.5 122.9 L437.0 122.9 L437.5 122.9 L438.0 123.0 L438.5 123.1 L439.0 123.2 L439.5 123.3 L440.0 123.5 L440.5 123.7 L441.0 123.9 L441.5 124.1 L442.0 124.4 L442.5 124.7 L443.0 125.0 L443.5 125.4 L444.0 125.8 L444.5 126.3 L445.0 126.7 L445.5 127.3 L446.0 127.8 L446.5 128.4 L447.0 129.1 L447.5 129.7 L448.0 130.4 L448.5 131.1 L449.0 131.9 L449.5 132.7 L450.0 133.6 L450.5 134.5 L451.0 135.5 L451.5 136.5 L452.0 137.6 L452.5 138.8 L453.0 140.1 L453.5 141.4 L454.0 142.8 L454.5 144.3 L455.0 145.9 L455.5 147.6 L456.0 149.3 L456.5 151.1 L457.0 152.9 L457.5 154.7 L458.0 156.5 L458.5 158.3 L459.0 160.1 L459.5 161.9 L460.0 163.8 L460.5 165.6 L461.0 167.4 L461.5 169.2 L462.0 171.1 L462.5 172.9 L463.0 174.7 L463.5 176.5 L464.0 178.3 L464.5 180.2 L465.0 182.0 L465.5 183.8 L466.0 185.6 L466.5 187.4 L467.0 189.2 L467.5 191.0 L468.0 192.8 L468.5 194.6 L469.0 196.4 L469.5 198.3 L470.0 200.1 L470.5 201.9 L471.0 203.7 L471.5 205.6 L472.0 207.5 L472.5 209.4 L473.0 211.4 L473.5 213.3 L474.0 215.3 L474.5 217.3 L475.0 219.3 L475.5 221.3 L476.0 223.2 L476.5 225.2 L477.0 227.1 L477.5 229.0 L478.0 230.9 L478.5 232.7 L479.0 234.5 L479.5 236.3 L480.0 238.1 L480.5 239.9 L481.0 241.7 L481.5 243.5 L482.0 245.2 L482.5 247.0 L483.0 248.7 L483.5 250.5 L484.0 252.2 L484.5 253.9 L485.0 255.6 L485.5 257.3 L486.0 259.0 L486.5 260.6 L487.0 262.3 L487.5 263.9 L488.0 265.6 L488.5 267.2 L489.0 268.8 L489.5 270.4 L490.0 272.0 L490.5 273.6 L491.0 275.2 L491.5 276.7 L492.0 278.3 L492.5 279.8 L493.0 281.3 L493.5 282.8 L494.0 284.3 L494.5 285.8 L495.0 287.3 L495.5 288.7 L496.0 290.1 L496.5 291.5 L497.0 292.9 L497.5 294.3 L498.0 295.6 L498.5 296.9 L499.0 298.2 L499.5 299.4 L500.0 300.6 L500.5 301.8 L501.0 302.9 L501.5 304.0 L502.0 305.1 L502.5 306.1 L503.0 307.1 L503.5 308.0 L504.0 308.9 L504.5 309.7 L505.0 310.5 L505.5 311.2 L506.0 311.9 L506.5 312.5 L507.0 313.0 L507.5 313.4 L508.0 313.9 L508.5 314.2 L509.0 314.6 L509.5 314.9 L510.0 315.1 L510.5 315.3 L511.0 315.5 L511.5 315.6 L512.0 315.6 L512.5 315.7 L513.0 315.6 L513.5 315.6 L514.0 315.5 L514.5 315.4 L515.0 315.3 L515.5 315.1 L516.0 315.0 L516.5 314.8 L517.0 314.6 L517.5 314.3 L518.0 314.1 L518.5 313.8 L519.0 313.4 L519.5 313.1 L520.0 312.6 L520.5 312.2 L521.0 311.7 L521.5 311.2 L522.0 310.6 L522.5 310.0 L523.0 309.4 L523.5 308.8 L524.0 308.2 L524.5 307.5 L525.0 306.9 L525.5 306.2 L526.0 305.5 L526.5 304.8 L527.0 304.0 L527.5 303.2 L528.0 302.5 L528.5 301.7 L529.0 300.9 L529.5 300.0 L530.0 299.2 L530.5 298.3 L531.0 297.5 L531.5 296.6 L532.0 295.7 L532.5 294.8 L533.0 293.9 L533.5 293.0 L534.0 292.0 L534.5 291.1 L535.0 290.1 L535.5 289.2 L536.0 288.2 L536.5 287.2 L537.0 286.3 L537.5 285.3 L538.0 284.3 L538.5 283.3 L539.0 282.3 L539.5 281.3 L540.0 280.3 L540.5 279.3 L541.0 278.3 L541.5 277.3 L542.0 276.3 L542.5 275.3 L543.0 274.3 L543.5 273.3 L544.0 272.3 L544.5 271.3 L545.0 270.2 L545.5 269.2 L546.0 268.2 L546.5 267.2 L547.0 266.2 L547.5 265.2 L548.0 264.2 L548.5 263.2 L549.0 262.2 L549.5 261.2 L550.0 260.2 L550.5 259.2 L551.0 258.1 L551.5 257.1 L552.0 256.2 L552.5 255.2 L553.0 254.2 L553.5 253.3 L554.0 252.3 L554.5 251.4 L555.0 250.5 L555.5 249.6 L556.0 248.7 L556.5 247.9 L557.0 247.0 L557.5 246.2 L558.0 245.4 L558.5 244.6 L559.0 243.8 L559.5 243.1 L560.0 242.3 L560.5 241.6 L561.0 240.9 L561.5 240.2 L562.0 239.5 L562.5 238.8 L563.0 238.2 L563.5 237.5 L564.0 236.9 L564.5 236.2 L565.0 235.6 L565.5 235.0 L566.0 234.5 L566.5 233.9 L567.0 233.4 L567.5 232.8 L568.0 232.3 L568.5 231.8 L569.0 231.3 L569.5 230.9 L570.0 230.4 L570.5 229.9 L571.0 229.5 L571.5 229.1 L572.0 228.7 L572.5 228.3 L573.0 227.9 L573.5 227.5 L574.0 227.1 L574.5 226.7 L575.0 226.4 L575.5 226.0 L576.0 225.7 L576.5 225.4 L577.0 225.0 L577.5 224.7 L578.0 224.4 L578.5 224.1 L579.0 223.8 L579.5 223.5 L580.0 223.2 L580.5 223.0 L581.0 222.7 L581.5 222.4 L582.0 222.2 L582.5 222.0 L583.0 221.7 L583.5 221.5 L584.0 221.3 L584.5 221.1 L585.0 220.9 L585.5 220.7 L586.0 220.5 L586.5 220.3 L587.0 220.2 L587.5 220.0 L588.0 219.8 L588.5 219.7 L589.0 219.5 L589.5 219.4 L590.0 219.2 L590.5 219.1 L591.0 218.9 L591.5 218.8 L592.0 218.7 L592.5 218.5 L593.0 218.4 L593.5 218.3 L594.0 218.2 L594.5 218.0 L595.0 217.9 L595.5 217.8 L596.0 217.7 L596.5 217.6 L597.0 217.4 L597.5 217.3 L598.0 217.2 L598.5 217.1 L599.0 217.0 L599.5 216.9 L600.0 216.8 L600.5 216.7 L601.0 216.6 L601.5 216.5 L602.0 216.5 L602.5 216.4 L603.0 216.3 L603.5 216.2 L604.0 216.1 L604.5 216.1 L605.0 216.0 L605.5 216.0 L606.0 215.9 L606.5 215.8 L607.0 215.8 L607.5 215.7 L608.0 215.7 L608.5 215.6 L609.0 215.6 L609.5 215.5 L610.0 215.5 L610.5 215.4 L611.0 215.4 L611.5 215.4 L612.0 215.3 L612.5 215.3 L613.0 215.3 L613.5 215.2 L614.0 215.2 L614.5 215.2 L615.0 215.1 L615.5 215.1 L616.0 215.1 L616.5 215.0 L617.0 215.0 L617.5 215.0 L618.0 215.0 L618.5 214.9 L619.0 214.9 L619.5 214.9 L620.0 214.9 L620.5 214.9 L621.0 214.8 L621.5 214.8 L622.0 214.8 L622.5 214.8 L623.0 214.8 L624.0 214.8 L627.5 214.8 L628.0 214.8 L628.5 214.8 L629.0 214.8 L629.5 214.8 L630.0 214.8 L630.5 214.9 L631.0 214.9 L631.5 214.9 L632.0 214.9 L632.5 214.9 L633.0 214.9 L633.5 215.0 L634.0 215.0 L634.5 215.0 L635.0 215.0 L635.5 215.1 L636.0 215.1 L636.5 215.1 L637.0 215.1 L637.5 215.1 L638.0 215.2 L638.5 215.2 L639.0 215.2 L639.5 215.2 L640.0 215.3 L640.5 215.3 L641.0 215.3 L641.5 215.3 L642.0 215.3 L642.5 215.4 L643.0 215.4 L643.5 215.4 L644.0 215.5 L644.5 215.5 L645.0 215.5 L645.5 215.6 L646.0 215.6 L646.5 215.6 L647.0 215.6 L647.5 215.7 L648.0 215.7 L648.5 215.7 L649.0 215.8 L649.5 215.8 L650.0 215.8 L650.5 215.9 L651.0 215.9 L651.5 215.9 L652.0 216.0 L652.5 216.0 L653.0 216.0 L653.5 216.1 L654.0 216.1 L654.5 216.1 L655.0 216.1 L655.5 216.1 L656.0 216.2 L656.5 216.2 L657.0 216.2 L657.5 216.2 L658.0 216.2 L659.0 216.2 L660.5 216.2 L785.0 216.2" fill="none" stroke="#0c0c0a" stroke-width="3.50" stroke-linejoin="round"/>
<path d="M83.0 216.2 L316.0 216.2 L317.0 216.2 L317.5 216.2 L318.0 216.2 L318.5 216.2 L319.0 216.2 L319.5 216.2 L320.0 216.1 L320.5 216.1 L321.0 216.1 L321.5 216.1 L322.0 216.1 L322.5 216.0 L323.0 216.0 L323.5 216.0 L324.0 215.9 L324.5 215.9 L325.0 215.8 L325.5 215.8 L326.0 215.7 L326.5 215.6 L327.0 215.6 L327.5 215.5 L328.0 215.4 L328.5 215.3 L329.0 215.2 L329.5 215.1 L330.0 215.0 L330.5 214.9 L331.0 214.8 L331.5 214.7 L332.0 214.6 L332.5 214.4 L333.0 214.3 L333.5 214.2 L334.0 214.0 L334.5 213.9 L335.0 213.7 L335.5 213.6 L336.0 213.4 L336.5 213.3 L337.0 213.1 L337.5 213.0 L338.0 212.8 L338.5 212.6 L339.0 212.4 L339.5 212.2 L340.0 212.0 L340.5 211.8 L341.0 211.5 L341.5 211.3 L342.0 211.0 L342.5 210.7 L343.0 210.5 L343.5 210.2 L344.0 209.8 L344.5 209.5 L345.0 209.2 L345.5 208.8 L346.0 208.5 L346.5 208.1 L347.0 207.7 L347.5 207.3 L348.0 206.9 L348.5 206.5 L349.0 206.1 L349.5 205.7 L350.0 205.2 L350.5 204.8 L351.0 204.3 L351.5 203.8 L352.0 203.4 L352.5 202.9 L353.0 202.4 L353.5 201.8 L354.0 201.3 L354.5 200.7 L355.0 200.1 L355.5 199.5 L356.0 198.9 L356.5 198.2 L357.0 197.5 L357.5 196.9 L358.0 196.1 L358.5 195.4 L359.0 194.7 L359.5 194.0 L360.0 193.3 L360.5 192.6 L361.0 191.9 L361.5 191.2 L362.0 190.4 L362.5 189.7 L363.0 189.0 L363.5 188.3 L364.0 187.5 L364.5 186.7 L365.0 185.9 L365.5 185.1 L366.0 184.3 L366.5 183.4 L367.0 182.5 L367.5 181.6 L368.0 180.7 L368.5 179.7 L369.0 178.7 L369.5 177.6 L370.0 176.6 L370.5 175.4 L371.0 174.3 L371.5 173.1 L372.0 171.8 L372.5 170.5 L373.0 169.2 L373.5 167.9 L374.0 166.5 L374.5 165.1 L375.0 163.7 L375.5 162.2 L376.0 160.8 L376.5 159.3 L377.0 157.9 L377.5 156.4 L378.0 155.0 L378.5 153.5 L379.0 152.1 L379.5 150.7 L380.0 149.3 L380.5 147.9 L381.0 146.4 L381.5 145.0 L382.0 143.6 L382.5 142.2 L383.0 140.8 L383.5 139.4 L384.0 137.9 L384.5 136.5 L385.0 135.1 L385.5 133.7 L386.0 132.3 L386.5 130.9 L387.0 129.6 L387.5 128.4 L388.0 127.2 L388.5 126.0 L389.0 124.0 L389.5 122.8 L390.0 121.6 L390.5 120.4 L391.0 119.3 L391.5 118.2 L392.0 117.2 L392.5 116.2 L393.0 115.2 L393.5 114.4 L394.0 113.6 L394.5 109.7 L395.0 108.9 L395.5 108.2 L396.0 107.5 L396.5 107.0 L397.0 106.6 L397.5 106.3 L398.0 106.1 L398.5 105.9 L399.0 105.7 L399.5 105.5 L400.0 99.6 L400.5 99.5 L401.0 99.5 L401.5 99.6 L402.0 99.7 L402.5 99.9 L403.0 100.1 L403.5 100.4 L404.0 96.3 L404.5 96.4 L405.0 96.5 L405.5 96.7 L406.0 96.9 L406.5 97.2 L407.0 97.5 L407.5 97.9 L408.0 98.3 L408.5 98.7 L409.0 93.4 L409.5 94.2 L410.0 95.1 L410.5 96.0 L411.0 96.9 L411.5 97.9 L412.0 99.0 L412.5 100.1 L413.0 101.3 L413.5 102.6 L414.0 104.0 L414.5 105.5 L415.0 107.1 L415.5 100.8 L416.0 103.0 L416.5 105.2 L417.0 107.4 L417.5 109.5 L418.0 111.7 L418.5 113.8 L419.0 116.0 L419.5 118.1 L420.0 117.3 L420.5 119.7 L421.0 122.1 L421.5 124.6 L422.0 127.1 L422.5 129.5 L423.0 132.0 L423.5 134.6 L424.0 137.3 L424.5 140.1 L425.0 142.9 L425.5 145.7 L426.0 147.6 L426.5 150.6 L427.0 153.6 L427.5 156.7 L428.0 159.8 L428.5 162.9 L429.0 166.1 L429.5 169.4 L430.0 172.7 L430.5 176.1 L431.0 179.6 L431.5 183.2 L432.0 185.8 L432.5 189.6 L433.0 193.6 L433.5 197.7 L434.0 201.8 L434.5 205.8 L435.0 209.8 L435.5 213.7 L436.0 217.4 L436.5 219.8 L437.0 223.2 L437.5 226.4 L438.0 229.6 L438.5 232.7 L439.0 235.9 L439.5 239.0 L440.0 242.2 L440.5 245.4 L441.0 248.7 L441.5 252.0 L442.0 255.3 L442.5 258.7 L443.0 262.0 L443.5 264.2 L444.0 267.5 L444.5 270.7 L445.0 273.8 L445.5 277.0 L446.0 280.0 L446.5 283.0 L447.0 286.0 L447.5 288.8 L448.0 291.7 L448.5 293.4 L449.0 296.0 L449.5 298.6 L450.0 301.2 L450.5 303.5 L451.0 305.9 L451.5 308.3 L452.0 310.7 L452.5 313.1 L453.0 315.5 L453.5 314.9 L454.0 316.9 L454.5 318.9 L455.0 320.8 L455.5 322.8 L456.0 324.8 L456.5 326.8 L457.0 328.8 L457.5 330.7 L458.0 332.6 L458.5 334.5 L459.0 336.2 L459.5 333.1 L460.0 334.8 L460.5 336.3 L461.0 337.8 L461.5 339.3 L462.0 340.6 L462.5 341.9 L463.0 343.2 L463.5 344.4 L464.0 339.9 L464.5 341.0 L465.0 342.0 L465.5 342.9 L466.0 343.7 L466.5 344.5 L467.0 345.2 L467.5 345.9 L468.0 346.4 L468.5 346.9 L469.0 347.4 L469.5 347.7 L470.0 342.4 L470.5 342.7 L471.0 343.0 L471.5 343.2 L472.0 343.4 L472.5 343.5 L473.0 343.6 L473.5 343.5 L474.0 338.9 L474.5 338.4 L475.0 337.9 L475.5 337.3 L476.0 336.6 L476.5 335.8 L477.0 335.0 L477.5 334.1 L478.0 333.2 L478.5 332.2 L479.0 331.1 L479.5 330.0 L480.0 328.8 L480.5 322.7 L481.0 321.7 L481.5 320.7 L482.0 319.8 L482.5 318.8 L483.0 317.9 L483.5 317.0 L484.0 316.1 L484.5 315.2 L485.0 314.3 L485.5 313.4 L486.0 306.0 L486.5 305.5 L487.0 305.0 L487.5 304.6 L488.0 304.1 L488.5 303.7 L489.0 303.3 L489.5 302.8 L490.0 295.3 L490.5 294.5 L491.0 293.6 L491.5 292.8 L492.0 292.0 L492.5 291.2 L493.0 290.4 L493.5 289.6 L494.0 288.8 L494.5 280.8 L495.0 280.1 L495.5 279.4 L496.0 278.7 L496.5 278.1 L497.0 277.4 L497.5 276.7 L498.0 276.1 L498.5 275.5 L499.0 274.9 L499.5 274.2 L500.0 273.6 L500.5 273.0 L501.0 263.9 L501.5 263.2 L502.0 262.6 L502.5 262.0 L503.0 261.4 L503.5 260.8 L504.0 260.2 L504.5 259.7 L505.0 259.1 L505.5 258.6 L506.0 258.1 L506.5 257.7 L507.0 249.8 L507.5 249.5 L508.0 249.3 L508.5 249.1 L509.0 248.8 L509.5 248.6 L510.0 248.4 L510.5 248.3 L511.0 248.1 L511.5 247.9 L512.0 240.2 L512.5 240.3 L513.0 240.3 L513.5 240.4 L514.0 240.4 L514.5 240.5 L515.0 240.5 L515.5 240.5 L516.0 240.6 L516.5 234.6 L517.0 234.3 L517.5 233.9 L518.0 233.6 L518.5 233.3 L519.0 233.0 L519.5 232.8 L520.0 232.5 L520.5 232.3 L521.0 228.2 L521.5 227.9 L522.0 227.7 L522.5 227.5 L523.0 227.3 L523.5 227.1 L524.0 226.9 L524.5 226.8 L525.0 226.6 L525.5 226.5 L526.0 226.3 L526.5 226.2 L527.0 226.1 L527.5 226.0 L528.0 221.2 L528.5 221.8 L529.0 222.4 L529.5 223.0 L530.0 223.6 L530.5 224.1 L531.0 224.6 L531.5 218.8 L532.0 219.1 L532.5 219.3 L533.0 219.6 L533.5 219.8 L534.0 220.0 L534.5 220.2 L535.0 220.4 L535.5 220.6 L536.0 220.7 L536.5 220.9 L537.0 221.0 L537.5 221.0 L538.0 218.0 L538.5 218.0 L539.0 218.1 L540.0 218.1 L540.5 218.0 L541.0 218.0 L541.5 218.0 L542.0 218.0 L542.5 217.9 L543.0 217.9 L543.5 217.8 L544.0 216.5 L544.5 216.7 L545.0 216.8 L545.5 216.9 L546.0 217.1 L546.5 217.2 L547.0 217.3 L547.5 217.4 L548.0 216.4 L548.5 216.4 L549.0 216.5 L549.5 216.5 L550.0 216.5 L550.5 216.6 L551.0 216.6 L551.5 216.7 L552.0 216.7 L552.5 216.0 L553.0 216.0 L553.5 216.1 L554.0 216.1 L554.5 216.2 L555.0 216.3 L555.5 216.4 L556.0 216.4 L556.5 216.5 L557.0 216.6 L557.5 216.7 L558.0 215.9 L558.5 216.0 L559.0 216.0 L559.5 216.1 L560.0 216.2 L560.5 216.2 L561.0 216.3 L561.5 216.4 L562.0 216.4 L562.5 216.5 L563.0 216.6 L563.5 216.7 L564.0 215.8 L564.5 215.9 L565.0 215.9 L565.5 216.0 L566.0 216.1 L566.5 216.2 L567.0 216.3 L567.5 216.3 L568.0 216.4 L568.5 216.5 L569.0 216.6 L569.5 216.7 L570.0 216.7 L570.5 215.7 L571.0 215.8 L571.5 215.9 L572.0 216.0 L572.5 216.1 L573.0 216.2 L573.5 216.2 L574.0 216.3 L574.5 216.4 L575.0 216.5 L575.5 216.6 L576.0 216.7 L576.5 216.8 L577.0 215.4 L577.5 215.6 L578.0 215.8 L578.5 216.0 L579.0 216.2 L579.5 216.4 L580.0 216.6 L580.5 216.8 L581.0 217.0 L581.5 215.7 L582.0 215.9 L582.5 216.1 L583.0 216.2 L583.5 216.4 L584.0 216.5 L584.5 216.7 L585.0 216.8 L585.5 215.9 L586.0 216.0 L586.5 216.1 L587.0 216.1 L587.5 216.2 L588.0 216.3 L588.5 216.4 L589.0 216.5 L589.5 216.6 L590.0 216.7 L590.5 215.8 L591.0 215.9 L591.5 216.0 L592.0 216.1 L592.5 216.2 L593.0 216.3 L593.5 216.4 L594.0 216.5 L594.5 216.6 L595.0 216.7 L595.5 215.9 L596.0 216.0 L596.5 216.0 L597.0 216.1 L597.5 216.2 L598.0 216.2 L598.5 216.3 L599.0 216.4 L599.5 216.5 L600.0 216.5 L600.5 216.6 L601.0 215.9 L601.5 216.0 L602.0 216.1 L602.5 216.2 L603.0 216.3 L603.5 216.5 L604.0 216.6 L604.5 215.6 L605.0 215.7 L605.5 215.9 L606.0 216.0 L606.5 216.1 L607.0 216.2 L607.5 216.3 L608.0 216.4 L608.5 216.6 L609.0 216.7 L609.5 216.8 L610.0 215.6 L610.5 215.7 L611.0 215.8 L611.5 215.9 L612.0 216.0 L612.5 216.1 L613.0 216.2 L613.5 216.3 L614.0 216.4 L614.5 216.5 L615.0 216.6 L615.5 216.8 L616.0 216.9 L616.5 215.7 L617.0 215.8 L617.5 215.9 L618.0 216.0 L618.5 216.1 L619.0 216.1 L619.5 216.2 L620.0 216.3 L620.5 216.4 L621.0 216.5 L621.5 216.6 L622.0 216.7 L622.5 216.8 L623.0 215.6 L623.5 215.7 L624.0 215.8 L624.5 215.9 L625.0 216.0 L625.5 216.1 L626.0 216.2 L626.5 216.3 L627.0 216.4 L627.5 216.5 L628.0 216.6 L628.5 216.7 L629.0 216.8 L629.5 215.8 L630.0 215.8 L630.5 215.9 L631.0 216.0 L631.5 216.1 L632.0 216.2 L632.5 216.2 L633.0 216.3 L633.5 216.4 L634.0 216.5 L634.5 216.5 L635.0 216.6 L635.5 216.7 L636.0 215.5 L636.5 215.6 L637.0 215.7 L637.5 215.8 L638.0 216.0 L638.5 216.1 L639.0 216.2 L639.5 216.3 L640.0 216.5 L640.5 216.6 L641.0 216.7 L641.5 216.8 L642.0 217.0 L642.5 217.1 L643.0 215.8 L643.5 216.0 L644.0 216.2 L644.5 216.4 L645.0 216.6 L645.5 216.8 L646.0 215.7 L646.5 215.8 L647.0 215.9 L647.5 216.0 L648.0 216.1 L648.5 216.1 L649.0 216.2 L649.5 216.3 L650.0 216.4 L650.5 216.5 L651.0 216.6 L651.5 216.6 L652.0 216.7 L652.5 215.5 L653.0 215.7 L653.5 215.9 L654.0 216.1 L654.5 216.3 L655.0 216.4 L655.5 216.6 L656.0 216.8 L656.5 217.0 L657.0 215.8 L657.5 215.9 L658.0 216.0 L658.5 216.2 L659.0 216.3 L659.5 216.4 L660.0 216.6 L660.5 216.7 L661.0 215.6 L661.5 215.8 L662.0 215.9 L662.5 216.0 L663.0 216.2 L663.5 216.3 L664.0 216.4 L664.5 216.5 L665.0 216.7 L665.5 216.8 L666.0 215.7 L666.5 215.8 L667.0 215.9 L667.5 216.0 L668.0 216.1 L668.5 216.2 L669.0 216.2 L669.5 216.3 L670.0 216.4 L670.5 216.5 L671.0 216.6 L671.5 216.6 L672.0 216.7 L672.5 215.3 L673.0 215.5 L673.5 215.7 L674.0 215.9 L674.5 216.0 L675.0 216.2 L675.5 216.4 L676.0 216.6 L676.5 216.8 L677.0 216.9 L677.5 217.1 L678.0 215.7 L678.5 215.8 L679.0 216.0 L679.5 216.1 L680.0 216.2 L680.5 216.4 L681.0 216.5 L681.5 216.7 L682.0 216.8 L682.5 215.3 L683.0 215.5 L683.5 215.8 L684.0 216.0 L684.5 216.2 L685.0 216.5 L685.5 216.7 L686.0 216.9 L686.5 217.2 L687.0 215.6 L687.5 215.7 L688.0 215.8 L688.5 215.9 L689.0 216.0 L689.5 216.1 L690.0 216.2 L690.5 216.4 L691.0 216.5 L691.5 216.6 L692.0 216.7 L692.5 216.9 L693.0 217.0 L693.5 215.7 L694.0 215.8 L694.5 215.9 L695.0 216.0 L695.5 216.1 L696.0 216.2 L696.5 216.3 L697.0 216.4 L697.5 216.5 L698.0 216.7 L698.5 216.8 L699.0 216.9 L699.5 215.1 L700.0 215.4 L700.5 215.8 L701.0 216.1 L701.5 216.4 L702.0 216.8 L702.5 217.2 L703.0 217.5 L703.5 215.1 L704.0 215.5 L704.5 215.8 L705.0 216.1 L705.5 216.5 L706.0 216.9 L706.5 217.2 L707.0 217.6 L707.5 214.8 L708.0 215.1 L708.5 215.5 L709.0 215.9 L709.5 216.3 L710.0 216.7 L710.5 217.0 L711.0 217.5 L711.5 217.9 L712.0 215.4 L712.5 215.6 L713.0 215.9 L713.5 216.1 L714.0 216.4 L714.5 216.6 L715.0 216.9 L715.5 217.2 L716.0 214.5 L716.5 214.9 L717.0 215.2 L717.5 215.6 L718.0 216.0 L718.5 216.3 L719.0 216.7 L719.5 217.1 L720.0 217.5 L720.5 217.9 L721.0 214.1 L721.5 214.6 L722.0 215.2 L722.5 215.7 L723.0 216.2 L723.5 216.8 L724.0 217.4 L724.5 217.9 L725.0 218.5 L725.5 215.0 L726.0 215.3 L726.5 215.6 L727.0 215.9 L727.5 216.2 L728.0 216.5 L728.5 216.8 L729.0 217.1 L729.5 217.4 L730.0 217.7 L730.5 214.5 L731.0 214.8 L731.5 215.1 L732.0 215.3 L732.5 215.6 L733.0 215.9 L733.5 216.2 L734.0 216.5 L734.5 216.8 L735.0 217.1 L735.5 217.4 L736.0 217.8 L736.5 218.1 L737.0 214.1 L737.5 214.4 L738.0 214.8 L738.5 215.2 L739.0 215.5 L739.5 215.9 L740.0 216.3 L740.5 216.7 L741.0 217.1 L741.5 217.5 L742.0 217.9 L742.5 218.3 L743.0 218.7 L743.5 214.9 L744.0 215.4 L744.5 215.9 L745.0 216.4 L745.5 216.9 L746.0 217.4 L746.5 218.0 L747.0 213.8 L747.5 214.5 L748.0 215.3 L748.5 216.1 L749.0 216.8 L749.5 217.6 L750.0 218.4 L750.5 219.2 L751.0 213.9 L751.5 214.5 L752.0 215.1 L752.5 215.7 L753.0 216.3 L753.5 216.9 L754.0 217.5 L754.5 218.1 L755.0 218.7 L755.5 213.3 L756.0 213.9 L756.5 214.4 L757.0 215.0 L757.5 215.6 L758.0 216.2 L758.5 216.8 L759.0 217.4 L759.5 218.0 L760.0 218.6 L760.5 219.2 L761.0 214.0 L761.5 214.5 L762.0 215.0 L762.5 215.6 L763.0 216.1 L763.5 216.7 L764.0 217.2 L764.5 217.8 L765.0 218.3 L765.5 213.7 L766.0 214.3 L766.5 215.0 L767.0 215.6 L767.5 216.3 L768.0 216.9 L768.5 217.6 L769.0 218.3 L769.5 219.0 L770.0 214.6 L770.5 215.1 L771.0 215.5 L771.5 216.0 L772.0 216.5 L772.5 216.9 L773.0 217.4 L773.5 217.9 L774.0 218.4 L774.5 214.5 L775.0 215.1 L775.5 215.7 L776.0 216.3 L776.5 216.9 L777.0 217.5 L777.5 218.1 L778.0 212.9 L778.5 213.4 L779.0 214.0 L779.5 214.5 L780.0 215.0 L780.5 215.6 L781.0 216.1 L781.5 216.7 L782.0 217.3 L782.5 217.8 L783.0 218.4 L783.5 218.9 L784.0 219.5 L784.5 212.5 L785.0 213.3" fill="none" stroke="#2a3082" stroke-width="1.70" stroke-linejoin="round"/>
<path d="M83.0 216.2 L309.0 216.2 L310.0 216.2 L310.5 216.2 L311.0 216.2 L311.5 216.2 L312.0 216.2 L312.5 216.2 L313.0 216.1 L313.5 216.1 L314.0 216.1 L314.5 216.0 L315.0 216.0 L315.5 215.9 L316.0 215.9 L316.5 215.8 L317.0 215.7 L317.5 215.6 L318.0 215.4 L318.5 215.2 L319.0 215.0 L319.5 214.8 L320.0 214.5 L320.5 214.2 L321.0 213.9 L321.5 213.6 L322.0 213.3 L322.5 213.0 L323.0 212.6 L323.5 212.3 L324.0 211.9 L324.5 211.6 L325.0 211.2 L325.5 210.8 L326.0 210.4 L326.5 210.1 L327.0 209.7 L327.5 209.3 L328.0 208.9 L328.5 208.5 L329.0 208.1 L329.5 207.8 L330.0 207.4 L330.5 207.0 L331.0 206.6 L331.5 206.2 L332.0 205.8 L332.5 205.4 L333.0 205.0 L333.5 204.5 L334.0 203.9 L334.5 203.3 L335.0 202.7 L335.5 201.9 L336.0 201.2 L336.5 200.3 L337.0 199.4 L337.5 198.5 L338.0 197.6 L338.5 196.6 L339.0 195.5 L339.5 194.5 L340.0 193.4 L340.5 192.3 L341.0 191.2 L341.5 190.1 L342.0 188.9 L342.5 187.8 L343.0 186.5 L343.5 185.3 L344.0 184.0 L344.5 182.7 L345.0 181.2 L345.5 179.7 L346.0 178.2 L346.5 176.5 L347.0 174.8 L347.5 173.0 L348.0 171.1 L348.5 169.2 L349.0 167.3 L349.5 165.3 L350.0 163.3 L350.5 161.2 L351.0 159.1 L351.5 157.0 L352.0 154.9 L352.5 152.7 L353.0 150.5 L353.5 148.3 L354.0 146.1 L354.5 143.9 L355.0 141.6 L355.5 139.3 L356.0 137.0 L356.5 134.6 L357.0 132.2 L357.5 129.8 L358.0 127.4 L358.5 125.0 L359.0 122.5 L359.5 120.1 L360.0 117.6 L360.5 115.2 L361.0 112.7 L361.5 110.3 L362.0 107.8 L362.5 105.4 L363.0 103.0 L363.5 100.5 L364.0 98.1 L364.5 95.7 L365.0 93.3 L365.5 90.9 L366.0 88.5 L366.5 86.2 L367.0 84.0 L367.5 81.8 L368.0 79.7 L368.5 77.7 L369.0 75.8 L369.5 74.1 L370.0 72.5 L370.5 69.7 L371.0 68.1 L371.5 66.8 L372.0 65.6 L372.5 64.7 L373.0 63.8 L373.5 63.1 L374.0 62.5 L374.5 62.1 L375.0 61.8 L375.5 59.5 L376.0 59.4 L376.5 59.5 L377.0 59.7 L377.5 60.1 L378.0 60.6 L378.5 61.3 L379.0 59.7 L379.5 60.6 L380.0 61.7 L380.5 63.1 L381.0 64.5 L381.5 66.1 L382.0 67.9 L382.5 69.8 L383.0 71.8 L383.5 74.0 L384.0 76.4 L384.5 78.9 L385.0 81.6 L385.5 84.7 L386.0 88.0 L386.5 91.4 L387.0 95.1 L387.5 98.9 L388.0 102.9 L388.5 107.1 L389.0 111.5 L389.5 116.1 L390.0 120.8 L390.5 125.7 L391.0 130.8 L391.5 136.1 L392.0 141.5 L392.5 147.0 L393.0 152.6 L393.5 158.3 L394.0 163.9 L394.5 169.6 L395.0 175.2 L395.5 180.7 L396.0 186.0 L396.5 191.0 L397.0 195.9 L397.5 200.5 L398.0 204.8 L398.5 209.1 L399.0 213.3 L399.5 217.5 L400.0 222.0 L400.5 226.7 L401.0 231.5 L401.5 236.6 L402.0 241.8 L402.5 247.1 L403.0 252.6 L403.5 258.1 L404.0 263.7 L404.5 269.4 L405.0 275.0 L405.5 280.6 L406.0 286.2 L406.5 291.8 L407.0 297.3 L407.5 302.8 L408.0 308.2 L408.5 313.4 L409.0 318.6 L409.5 323.7 L410.0 328.6 L410.5 333.4 L411.0 338.1 L411.5 342.6 L412.0 347.0 L412.5 351.2 L413.0 355.3 L413.5 359.2 L414.0 362.9 L414.5 366.5 L415.0 369.8 L415.5 373.0 L416.0 376.0 L416.5 378.8 L417.0 381.5 L417.5 384.0 L418.0 382.8 L418.5 384.6 L419.0 386.4 L419.5 388.1 L420.0 389.8 L420.5 391.4 L421.0 392.9 L421.5 394.2 L422.0 395.3 L422.5 396.2 L423.0 396.9 L423.5 391.4 L424.0 391.5 L424.5 391.6 L425.0 391.5 L425.5 391.3 L426.0 391.0 L426.5 390.7 L427.0 390.2 L427.5 389.6 L428.0 383.2 L428.5 382.9 L429.0 382.6 L429.5 382.1 L430.0 381.5 L430.5 380.7 L431.0 372.3 L431.5 371.0 L432.0 369.6 L432.5 368.2 L433.0 366.6 L433.5 365.0 L434.0 363.3 L434.5 361.6 L435.0 353.4 L435.5 351.3 L436.0 349.2 L436.5 346.9 L437.0 344.6 L437.5 342.3 L438.0 339.9 L438.5 337.5 L439.0 328.8 L439.5 326.4 L440.0 324.0 L440.5 321.7 L441.0 319.3 L441.5 317.0 L442.0 314.8 L442.5 312.6 L443.0 303.2 L443.5 301.3 L444.0 299.5 L444.5 297.8 L445.0 296.1 L445.5 294.5 L446.0 293.0 L446.5 284.6 L447.0 282.8 L447.5 281.1 L448.0 279.5 L448.5 278.0 L449.0 276.6 L449.5 275.2 L450.0 273.9 L450.5 265.2 L451.0 264.4 L451.5 263.6 L452.0 262.9 L452.5 262.2 L453.0 261.6 L453.5 261.0 L454.0 260.4 L454.5 259.8 L455.0 250.9 L455.5 249.9 L456.0 248.9 L456.5 248.0 L457.0 247.1 L457.5 246.3 L458.0 245.5 L458.5 244.8 L459.0 244.1 L459.5 243.5 L460.0 242.9 L460.5 234.0 L461.0 233.8 L461.5 233.6 L462.0 233.5 L462.5 233.4 L463.0 233.3 L463.5 233.3 L464.0 233.3 L464.5 233.3 L465.0 233.3 L465.5 233.4 L466.0 223.5 L466.5 223.8 L467.0 224.1 L467.5 224.5 L468.0 224.9 L468.5 225.4 L469.0 226.0 L469.5 226.6 L470.0 227.3 L470.5 219.9 L471.0 220.2 L471.5 220.6 L472.0 220.9 L472.5 221.3 L473.0 221.7 L473.5 222.1 L474.0 222.5 L474.5 222.9 L475.0 216.4 L475.5 217.0 L476.0 217.6 L476.5 218.2 L477.0 218.8 L477.5 219.4 L478.0 220.0 L478.5 220.7 L479.0 221.3 L479.5 221.9 L480.0 214.6 L480.5 215.1 L481.0 215.5 L481.5 215.9 L482.0 216.4 L482.5 216.8 L483.0 217.3 L483.5 217.8 L484.0 218.2 L484.5 218.7 L485.0 219.2 L485.5 219.7 L486.0 212.6 L486.5 213.5 L487.0 214.3 L487.5 215.2 L488.0 216.1 L488.5 217.0 L489.0 217.9 L489.5 218.7 L490.0 219.6 L490.5 220.4 L491.0 212.8 L491.5 213.5 L492.0 214.2 L492.5 214.9 L493.0 215.6 L493.5 216.3 L494.0 217.0 L494.5 217.7 L495.0 218.3 L495.5 219.0 L496.0 219.7 L496.5 213.1 L497.0 213.7 L497.5 214.3 L498.0 214.8 L498.5 215.4 L499.0 216.0 L499.5 216.6 L500.0 217.2 L500.5 217.7 L501.0 218.3 L501.5 218.9 L502.0 211.6 L502.5 213.1 L503.0 214.6 L503.5 216.1 L504.0 217.6 L504.5 219.0 L505.0 220.4 L505.5 214.4 L506.0 214.8 L506.5 215.2 L507.0 215.6 L507.5 216.0 L508.0 216.3 L508.5 216.7 L509.0 217.1 L509.5 217.4 L510.0 217.8 L510.5 218.1 L511.0 213.4 L511.5 214.3 L512.0 215.2 L512.5 216.0 L513.0 216.9 L513.5 217.7 L514.0 218.5 L514.5 219.4 L515.0 214.2 L515.5 214.8 L516.0 215.4 L516.5 216.0 L517.0 216.6 L517.5 217.1 L518.0 217.7 L518.5 218.2 L519.0 214.5 L519.5 214.8 L520.0 215.2 L520.5 215.5 L521.0 215.8 L521.5 216.1 L522.0 216.5 L522.5 216.8 L523.0 217.1 L523.5 217.4 L524.0 217.7 L524.5 213.2 L525.0 213.8 L525.5 214.4 L526.0 215.1 L526.5 215.7 L527.0 216.3 L527.5 216.9 L528.0 217.5 L528.5 218.1 L529.0 218.6 L529.5 219.2 L530.0 214.3 L530.5 215.1 L531.0 215.9 L531.5 216.6 L532.0 217.4 L532.5 218.1 L533.0 213.1 L533.5 213.8 L534.0 214.4 L534.5 215.1 L535.0 215.7 L535.5 216.3 L536.0 216.9 L536.5 217.5 L537.0 218.1 L537.5 218.7 L538.0 213.9 L538.5 214.7 L539.0 215.5 L539.5 216.2 L540.0 217.0 L540.5 217.7 L541.0 218.4 L541.5 214.8 L542.0 215.2 L542.5 215.7 L543.0 216.1 L543.5 216.6 L544.0 217.0 L544.5 217.4 L545.0 217.9 L545.5 213.8 L546.0 214.4 L546.5 214.9 L547.0 215.4 L547.5 215.9 L548.0 216.4 L548.5 216.8 L549.0 217.3 L549.5 217.8 L550.0 218.2 L550.5 218.6 L551.0 215.2 L551.5 215.5 L552.0 215.8 L552.5 216.1 L553.0 216.4 L553.5 216.7 L554.0 216.9 L554.5 217.2 L555.0 215.2 L555.5 215.5 L556.0 215.7 L556.5 215.9 L557.0 216.1 L557.5 216.3 L558.0 216.5 L558.5 216.7 L559.0 216.9 L559.5 217.1 L560.0 214.7 L560.5 215.0 L561.0 215.3 L561.5 215.7 L562.0 216.0 L562.5 216.4 L563.0 216.7 L563.5 217.0 L564.0 217.4 L564.5 217.7 L565.0 214.9 L565.5 215.2 L566.0 215.4 L566.5 215.7 L567.0 215.9 L567.5 216.2 L568.0 216.4 L568.5 216.6 L569.0 216.9 L569.5 217.1 L570.0 217.4 L570.5 214.9 L571.0 215.2 L571.5 215.4 L572.0 215.7 L572.5 215.9 L573.0 216.2 L573.5 216.4 L574.0 216.7 L574.5 216.9 L575.0 217.2 L575.5 217.4 L576.0 214.6 L576.5 215.3 L577.0 215.9 L577.5 216.6 L578.0 217.2 L578.5 217.9 L579.0 215.1 L579.5 215.4 L580.0 215.7 L580.5 216.0 L581.0 216.3 L581.5 216.6 L582.0 217.0 L582.5 217.3 L583.0 214.3 L583.5 214.8 L584.0 215.2 L584.5 215.7 L585.0 216.1 L585.5 216.6 L586.0 217.0 L586.5 217.5 L587.0 217.9 L587.5 214.7 L588.0 215.3 L588.5 215.8 L589.0 216.4 L589.5 216.9 L590.0 217.4 L590.5 215.0 L591.0 215.3 L591.5 215.5 L592.0 215.8 L592.5 216.1 L593.0 216.4 L593.5 216.7 L594.0 216.9 L594.5 217.2 L595.0 217.5 L595.5 215.4 L596.0 215.6 L596.5 215.8 L597.0 216.0 L597.5 216.2 L598.0 216.4 L598.5 216.7 L599.0 216.9 L599.5 217.1 L600.0 215.1 L600.5 215.3 L601.0 215.5 L601.5 215.7 L602.0 216.0 L602.5 216.2 L603.0 216.4 L603.5 216.6 L604.0 216.8 L604.5 217.0 L605.0 217.2 L605.5 214.2 L606.0 214.6 L606.5 214.9 L607.0 215.3 L607.5 215.6 L608.0 216.0 L608.5 216.3 L609.0 216.7 L609.5 217.0 L610.0 217.4 L610.5 217.7 L611.0 218.1 L611.5 215.0 L612.0 215.4 L612.5 215.8 L613.0 216.2 L613.5 216.7 L614.0 217.1 L614.5 217.5 L615.0 215.4 L615.5 215.7 L616.0 215.9 L616.5 216.2 L617.0 216.5 L617.5 216.8 L618.0 217.1 L618.5 215.1 L619.0 215.3 L619.5 215.6 L620.0 215.8 L620.5 216.1 L621.0 216.3 L621.5 216.6 L622.0 216.8 L622.5 217.1 L623.0 217.3 L623.5 214.5 L624.0 215.1 L624.5 215.7 L625.0 216.2 L625.5 216.8 L626.0 217.4 L626.5 218.0 L627.0 215.4 L627.5 215.7 L628.0 216.0 L628.5 216.3 L629.0 216.6 L629.5 216.9 L630.0 217.2 L630.5 214.6 L631.0 215.0 L631.5 215.3 L632.0 215.7 L632.5 216.1 L633.0 216.5 L633.5 216.9 L634.0 217.3 L634.5 217.7 L635.0 218.1 L635.5 215.5 L636.0 215.8 L636.5 216.1 L637.0 216.4 L637.5 216.7 L638.0 217.0 L638.5 214.2 L639.0 214.6 L639.5 215.0 L640.0 215.3 L640.5 215.7 L641.0 216.1 L641.5 216.5 L642.0 216.9 L642.5 217.2 L643.0 217.6 L643.5 218.0 L644.0 214.8 L644.5 215.0 L645.0 215.3 L645.5 215.6 L646.0 215.9 L646.5 216.1 L647.0 216.4 L647.5 216.7 L648.0 217.0 L648.5 217.2 L649.0 217.5 L649.5 217.8 L650.0 215.6 L650.5 215.9 L651.0 216.2 L651.5 216.5 L652.0 216.9 L652.5 217.2 L653.0 214.6 L653.5 215.1 L654.0 215.5 L654.5 215.9 L655.0 216.4 L655.5 216.8 L656.0 217.3 L656.5 217.7 L657.0 218.1 L657.5 215.1 L658.0 215.3 L658.5 215.6 L659.0 215.8 L659.5 216.1 L660.0 216.3 L660.5 216.6 L661.0 216.8 L661.5 217.1 L662.0 217.3 L662.5 217.5 L663.0 214.7 L663.5 215.0 L664.0 215.3 L664.5 215.6 L665.0 215.9 L665.5 216.2 L666.0 216.5 L666.5 216.8 L667.0 217.1 L667.5 217.4 L668.0 217.7 L668.5 218.0 L669.0 215.1 L669.5 215.5 L670.0 215.9 L670.5 216.3 L671.0 216.7 L671.5 217.1 L672.0 217.5 L672.5 215.3 L673.0 215.6 L673.5 215.9 L674.0 216.2 L674.5 216.5 L675.0 216.8 L675.5 217.1 L676.0 215.3 L676.5 215.5 L677.0 215.6 L677.5 215.8 L678.0 216.0 L678.5 216.2 L679.0 216.4 L679.5 216.6 L680.0 216.7 L680.5 216.9 L681.0 217.1 L681.5 217.3 L682.0 215.4 L682.5 215.5 L683.0 215.7 L683.5 215.9 L684.0 216.1 L684.5 216.3 L685.0 216.5 L685.5 216.7 L686.0 216.8 L686.5 217.0 L687.0 217.2 L687.5 215.3 L688.0 215.6 L688.5 215.9 L689.0 216.2 L689.5 216.5 L690.0 216.8 L690.5 217.1 L691.0 215.3 L691.5 215.6 L692.0 215.8 L692.5 216.0 L693.0 216.2 L693.5 216.5 L694.0 216.7 L694.5 217.0 L695.0 217.2 L695.5 215.4 L696.0 215.6 L696.5 215.7 L697.0 215.9 L697.5 216.1 L698.0 216.3 L698.5 216.6 L699.0 216.8 L699.5 217.0 L700.0 217.2 L700.5 214.0 L701.0 214.5 L701.5 214.9 L702.0 215.3 L702.5 215.7 L703.0 216.1 L703.5 216.6 L704.0 217.0 L704.5 217.4 L705.0 217.9 L705.5 218.3 L706.0 215.1 L706.5 215.4 L707.0 215.8 L707.5 216.1 L708.0 216.5 L708.5 216.9 L709.0 217.2 L709.5 214.4 L710.0 214.8 L710.5 215.2 L711.0 215.6 L711.5 215.9 L712.0 216.3 L712.5 216.7 L713.0 217.1 L713.5 217.5 L714.0 217.9 L714.5 214.9 L715.0 215.2 L715.5 215.4 L716.0 215.7 L716.5 215.9 L717.0 216.2 L717.5 216.4 L718.0 216.7 L718.5 217.0 L719.0 217.2 L719.5 217.5 L720.0 214.7 L720.5 215.1 L721.0 215.4 L721.5 215.7 L722.0 216.1 L722.5 216.5 L723.0 216.8 L723.5 217.2 L724.0 217.5 L724.5 217.9 L725.0 214.3 L725.5 215.1 L726.0 215.8 L726.5 216.6 L727.0 217.4 L727.5 218.2 L728.0 213.2 L728.5 214.2 L729.0 215.2 L729.5 216.2 L730.0 217.3 L730.5 218.3 L731.0 219.3 L731.5 214.5 L732.0 215.1 L732.5 215.7 L733.0 216.3 L733.5 216.9 L734.0 217.6 L734.5 218.2 L735.0 214.9 L735.5 215.1 L736.0 215.4 L736.5 215.7 L737.0 215.9 L737.5 216.2 L738.0 216.5 L738.5 216.8 L739.0 217.0 L739.5 217.3 L740.0 217.6 L740.5 213.2 L741.0 214.3 L741.5 215.5 L742.0 216.6 L742.5 217.8 L743.0 219.0 L743.5 214.8 L744.0 215.3 L744.5 215.9 L745.0 216.4 L745.5 217.0 L746.0 217.6 L746.5 214.1 L747.0 214.6 L747.5 215.2 L748.0 215.8 L748.5 216.4 L749.0 217.0 L749.5 217.6 L750.0 218.3 L750.5 213.6 L751.0 214.5 L751.5 215.4 L752.0 216.3 L752.5 217.3 L753.0 218.2 L753.5 219.1 L754.0 213.6 L754.5 214.7 L755.0 215.8 L755.5 216.9 L756.0 218.0 L756.5 219.1 L757.0 212.9 L757.5 214.1 L758.0 215.3 L758.5 216.5 L759.0 217.7 L759.5 218.9 L760.0 213.2 L760.5 213.9 L761.0 214.6 L761.5 215.3 L762.0 216.0 L762.5 216.7 L763.0 217.4 L763.5 218.1 L764.0 218.9 L764.5 213.5 L765.0 214.0 L765.5 214.6 L766.0 215.1 L766.5 215.6 L767.0 216.2 L767.5 216.8 L768.0 217.3 L768.5 217.9 L769.0 218.5 L769.5 219.0 L770.0 213.0 L770.5 213.9 L771.0 214.9 L771.5 215.8 L772.0 216.8 L772.5 217.7 L773.0 218.7 L773.5 219.6 L774.0 212.4 L774.5 213.6 L775.0 214.9 L775.5 216.1 L776.0 217.4 L776.5 218.7 L777.0 220.0 L777.5 212.5 L778.0 213.6 L778.5 214.7 L779.0 215.8 L779.5 216.9 L780.0 218.0 L780.5 219.1 L781.0 220.3 L781.5 212.8 L782.0 213.6 L782.5 214.4 L783.0 215.3 L783.5 216.1 L784.0 217.0 L784.5 217.8 L785.0 218.7" fill="none" stroke="#2a3082" stroke-width="1.70" stroke-linejoin="round" stroke-dasharray="18.5 8.5" stroke-dashoffset="6.8"/>
<text transform="translate(74.80 23.60) scale(1.020 1)" text-anchor="end" class="t">2</text>
<text transform="translate(74.80 125.85) scale(1.020 1)" text-anchor="end" class="t">1</text>
<text transform="translate(74.80 230.00) scale(1.020 1)" text-anchor="end" class="t">0</text>
<text transform="translate(74.80 326.35) scale(1.020 1)" text-anchor="end" class="t">1</text>
<text transform="translate(34.83 333.09) scale(1.188 1.375)" class="m">−</text>
<text transform="translate(74.80 425.00) scale(1.020 1)" text-anchor="end" class="t">2</text>
<text transform="translate(34.83 432.74) scale(1.188 1.375)" class="m">−</text>
<text transform="translate(81.50 453.00) scale(1.020 1)" text-anchor="middle" class="t">25</text>
<text transform="translate(316.60 453.00) scale(1.020 1)" text-anchor="middle" class="t">30</text>
<text transform="translate(552.10 453.00) scale(1.020 1)" text-anchor="middle" class="t">35</text>
<text transform="translate(784.40 453.00) scale(1.020 1)" text-anchor="middle" class="t">40</text>
<text transform="translate(27.30 383.10) rotate(-90)" class="t l" textLength="89.10" lengthAdjust="spacingAndGlyphs">sound</text>
<text transform="translate(27.30 280.90) rotate(-90)" class="t l" textLength="125.90" lengthAdjust="spacingAndGlyphs">pressure</text>
<text transform="translate(27.30 141.90) rotate(-90)" class="t l" textLength="95.50" lengthAdjust="spacingAndGlyphs">(mPa)</text>
<text x="362.20" y="487.30" class="t l" textLength="67.50" lengthAdjust="spacingAndGlyphs">time</text>
<text x="445.10" y="487.30" class="t l" textLength="66.10" lengthAdjust="spacingAndGlyphs">(ms)</text>
<text x="181.6" y="535.0" class="s">(a)</text>
<text x="241.60" y="535.00" class="t l" textLength="86.50" lengthAdjust="spacingAndGlyphs">linear</text>
<text x="341.60" y="535.00" class="t l" textLength="178.05" lengthAdjust="spacingAndGlyphs">distribution</text>
<text x="533.15" y="535.00" class="t l" textLength="109.95" lengthAdjust="spacingAndGlyphs">driving</text>
</g>
<g id="legend">
<path d="M562 15.7 H616.7" stroke="#b0221a" stroke-width="1.70" stroke-dasharray="18.2 8.6 18.2 99"/>
<text x="634.6" y="24.8" class="t i" textLength="35.3" lengthAdjust="spacingAndGlyphs">M</text>
<text x="678.8" y="29.6" class="t" textLength="28.5" lengthAdjust="spacingAndGlyphs">=</text>
<text transform="translate(718.20 24.80) scale(1.030 1)" text-anchor="start" class="t">0.4</text>
<path d="M562 52.9 H616.7" stroke="#b0221a" stroke-width="1.70"/>
<text x="634.6" y="62.2" class="t i" textLength="35.3" lengthAdjust="spacingAndGlyphs">M</text>
<text x="678.8" y="67.0" class="t" textLength="28.5" lengthAdjust="spacingAndGlyphs">=</text>
<text transform="translate(718.20 62.20) scale(1.030 1)" text-anchor="start" class="t">0.2</text>
<path d="M562 89.9 H616.7" stroke="#0c0c0a" stroke-width="3.50"/>
<text x="634.6" y="99.5" class="t i" textLength="35.3" lengthAdjust="spacingAndGlyphs">M</text>
<text x="678.8" y="104.3" class="t" textLength="28.5" lengthAdjust="spacingAndGlyphs">=</text>
<text transform="translate(718.20 99.50) scale(1.030 1)" text-anchor="start" class="t">0</text>
<path d="M562 127.1 H616.7" stroke="#2a3082" stroke-width="1.70"/>
<text x="634.6" y="135.8" class="t i" textLength="35.3" lengthAdjust="spacingAndGlyphs">M</text>
<text x="678.8" y="140.6" class="t" textLength="28.5" lengthAdjust="spacingAndGlyphs">=</text>
<text transform="translate(717.39 144.18) scale(1.156 1.417)" class="m">−</text>
<text transform="translate(738.60 135.80) scale(1.030 1)" text-anchor="start" class="t">0.2</text>
<path d="M562 165.1 H616.7" stroke="#2a3082" stroke-width="1.70" stroke-dasharray="18.2 8.6 18.2 99"/>
<text x="634.6" y="173.3" class="t i" textLength="35.3" lengthAdjust="spacingAndGlyphs">M</text>
<text x="678.8" y="178.1" class="t" textLength="28.5" lengthAdjust="spacingAndGlyphs">=</text>
<text transform="translate(717.39 181.68) scale(1.156 1.417)" class="m">−</text>
<text transform="translate(738.60 173.30) scale(1.030 1)" text-anchor="start" class="t">0.4</text>
</g>
<g id="plotB">
<path d="M83 565.60 V968.00 H785.9" fill="none" stroke="#1f1a17" stroke-width="1.85"/>
<path d="M83 566.60 h17.5M83 616.77 h10.5M83 666.95 h17.5M83 717.12 h10.5M83 767.30 h17.5M83 817.48 h10.5M83 867.65 h17.5M83 917.83 h10.5M129.80 968.00 v-11.0M176.60 968.00 v-11.0M223.40 968.00 v-11.0M270.20 968.00 v-11.0M317.00 968.00 v-17.7M363.80 968.00 v-11.0M410.60 968.00 v-11.0M457.40 968.00 v-11.0M504.20 968.00 v-11.0M551.00 968.00 v-17.7M597.80 968.00 v-11.0M644.60 968.00 v-11.0M691.40 968.00 v-11.0M738.20 968.00 v-11.0M785.00 968.00 v-17.7" fill="none" stroke="#1f1a17" stroke-width="1.85"/>
<path d="M83.0 767.2 L363.0 767.2 L364.0 767.2 L364.5 767.2 L365.0 767.2 L365.5 767.2 L366.0 767.2 L366.5 767.1 L367.0 767.1 L367.5 767.1 L368.0 767.1 L368.5 767.0 L369.0 767.0 L369.5 767.0 L370.0 766.9 L370.5 766.9 L371.0 766.8 L371.5 766.8 L372.0 766.8 L372.5 766.7 L373.0 766.6 L373.5 766.6 L374.0 766.5 L374.5 766.5 L375.0 766.4 L375.5 766.4 L376.0 766.3 L376.5 766.2 L377.0 766.2 L377.5 766.1 L378.0 766.0 L378.5 765.9 L379.0 765.9 L379.5 765.8 L380.0 765.7 L380.5 765.6 L381.0 765.5 L381.5 765.4 L382.0 765.4 L382.5 765.3 L383.0 765.2 L383.5 765.1 L384.0 765.0 L384.5 764.9 L385.0 764.8 L385.5 764.7 L386.0 764.6 L386.5 764.5 L387.0 764.4 L387.5 764.3 L388.0 764.2 L388.5 764.1 L389.0 764.0 L389.5 763.9 L390.0 763.8 L390.5 763.7 L391.0 763.6 L391.5 763.5 L392.0 763.4 L392.5 763.2 L393.0 763.1 L393.5 763.0 L394.0 762.9 L394.5 762.8 L395.0 762.7 L395.5 762.6 L396.0 762.4 L396.5 762.3 L397.0 762.2 L397.5 762.1 L398.0 762.0 L398.5 761.9 L399.0 761.7 L399.5 761.6 L400.0 761.5 L400.5 761.3 L401.0 761.2 L401.5 761.1 L402.0 760.9 L402.5 760.7 L403.0 760.6 L403.5 760.4 L404.0 760.2 L404.5 760.0 L405.0 759.8 L405.5 759.6 L406.0 759.4 L406.5 759.2 L407.0 759.0 L407.5 758.8 L408.0 758.5 L408.5 758.3 L409.0 758.1 L409.5 757.9 L410.0 757.6 L410.5 757.4 L411.0 757.2 L411.5 757.0 L412.0 756.7 L412.5 756.5 L413.0 756.3 L413.5 756.0 L414.0 755.8 L414.5 755.6 L415.0 755.3 L415.5 755.1 L416.0 754.9 L416.5 754.6 L417.0 754.4 L417.5 754.1 L418.0 753.9 L418.5 753.6 L419.0 753.4 L419.5 753.1 L420.0 752.9 L420.5 752.6 L421.0 752.4 L421.5 752.1 L422.0 751.9 L422.5 751.6 L423.0 751.3 L423.5 751.1 L424.0 750.8 L424.5 750.5 L425.0 750.2 L425.5 750.0 L426.0 749.7 L426.5 749.4 L427.0 749.1 L427.5 748.9 L428.0 748.6 L428.5 748.3 L429.0 748.0 L429.5 747.7 L430.0 747.4 L430.5 747.1 L431.0 746.9 L431.5 746.6 L432.0 746.3 L432.5 746.0 L433.0 745.6 L433.5 745.3 L434.0 745.0 L434.5 744.7 L435.0 744.4 L435.5 744.1 L436.0 743.7 L436.5 743.4 L437.0 743.1 L437.5 742.7 L438.0 742.4 L438.5 742.0 L439.0 741.7 L439.5 741.3 L440.0 741.0 L440.5 740.6 L441.0 740.3 L441.5 739.9 L442.0 739.5 L442.5 739.2 L443.0 738.8 L443.5 738.4 L444.0 738.0 L444.5 737.6 L445.0 737.2 L445.5 736.8 L446.0 736.4 L446.5 735.9 L447.0 735.5 L447.5 735.0 L448.0 734.6 L448.5 734.1 L449.0 733.7 L449.5 733.2 L450.0 732.7 L450.5 732.1 L451.0 731.6 L451.5 731.0 L452.0 730.4 L452.5 729.8 L453.0 729.2 L453.5 728.5 L454.0 727.8 L454.5 727.2 L455.0 726.5 L455.5 725.8 L456.0 725.2 L456.5 724.5 L457.0 723.8 L457.5 723.2 L458.0 722.6 L458.5 722.0 L459.0 721.4 L459.5 720.9 L460.0 720.3 L460.5 719.8 L461.0 719.3 L461.5 718.8 L462.0 718.4 L462.5 717.9 L463.0 717.4 L463.5 717.0 L464.0 716.5 L464.5 716.1 L465.0 715.7 L465.5 715.3 L466.0 714.8 L466.5 714.4 L467.0 714.0 L467.5 713.7 L468.0 713.3 L468.5 712.9 L469.0 712.5 L469.5 712.2 L470.0 711.8 L470.5 711.5 L471.0 711.2 L471.5 710.9 L472.0 710.6 L472.5 710.3 L473.0 710.0 L473.5 709.7 L474.0 709.4 L474.5 709.1 L475.0 708.9 L475.5 708.6 L476.0 708.3 L476.5 708.1 L477.0 707.8 L477.5 707.6 L478.0 707.3 L478.5 707.1 L479.0 706.9 L479.5 706.7 L480.0 706.4 L480.5 706.2 L481.0 706.0 L481.5 705.8 L482.0 705.7 L482.5 705.5 L483.0 705.3 L483.5 705.2 L484.0 705.0 L484.5 704.9 L485.0 704.8 L485.5 704.7 L486.0 704.5 L486.5 704.4 L487.0 704.3 L487.5 704.2 L488.0 704.1 L488.5 704.0 L489.0 703.9 L489.5 703.8 L490.0 703.8 L490.5 703.7 L491.0 703.6 L491.5 703.5 L492.0 703.5 L492.5 703.4 L493.0 703.4 L493.5 703.3 L494.0 703.3 L494.5 703.3 L495.5 703.3 L496.0 703.3 L496.5 703.4 L497.0 703.4 L497.5 703.5 L498.0 703.5 L498.5 703.6 L499.0 703.7 L499.5 703.8 L500.0 703.9 L500.5 704.1 L501.0 704.2 L501.5 704.3 L502.0 704.5 L502.5 704.7 L503.0 704.8 L503.5 705.0 L504.0 705.2 L504.5 705.4 L505.0 705.6 L505.5 705.8 L506.0 706.0 L506.5 706.2 L507.0 706.4 L507.5 706.6 L508.0 706.8 L508.5 707.1 L509.0 707.3 L509.5 707.6 L510.0 707.8 L510.5 708.1 L511.0 708.4 L511.5 708.7 L512.0 709.1 L512.5 709.4 L513.0 709.8 L513.5 710.2 L514.0 710.7 L514.5 711.1 L515.0 711.6 L515.5 712.1 L516.0 712.6 L516.5 713.1 L517.0 713.7 L517.5 714.2 L518.0 714.8 L518.5 715.4 L519.0 716.0 L519.5 716.6 L520.0 717.2 L520.5 717.8 L521.0 718.4 L521.5 719.0 L522.0 719.7 L522.5 720.3 L523.0 720.9 L523.5 721.6 L524.0 722.3 L524.5 722.9 L525.0 723.6 L525.5 724.3 L526.0 725.1 L526.5 725.8 L527.0 726.6 L527.5 727.3 L528.0 728.1 L528.5 728.9 L529.0 729.7 L529.5 730.6 L530.0 731.4 L530.5 732.2 L531.0 733.1 L531.5 734.0 L532.0 734.9 L532.5 735.7 L533.0 736.6 L533.5 737.5 L534.0 738.5 L534.5 739.4 L535.0 740.3 L535.5 741.3 L536.0 742.3 L536.5 743.3 L537.0 744.3 L537.5 745.3 L538.0 746.4 L538.5 747.5 L539.0 748.6 L539.5 749.7 L540.0 750.8 L540.5 751.9 L541.0 753.1 L541.5 754.2 L542.0 755.4 L542.5 756.5 L543.0 757.7 L543.5 758.8 L544.0 760.0 L544.5 761.1 L545.0 762.2 L545.5 763.3 L546.0 764.5 L546.5 765.5 L547.0 766.6 L547.5 767.7 L548.0 768.8 L548.5 769.8 L549.0 770.9 L549.5 771.9 L550.0 773.0 L550.5 774.0 L551.0 775.1 L551.5 776.1 L552.0 777.1 L552.5 778.2 L553.0 779.2 L553.5 780.2 L554.0 781.2 L554.5 782.2 L555.0 783.2 L555.5 784.2 L556.0 785.2 L556.5 786.2 L557.0 787.1 L557.5 788.1 L558.0 789.0 L558.5 790.0 L559.0 790.9 L559.5 791.8 L560.0 792.7 L560.5 793.6 L561.0 794.5 L561.5 795.4 L562.0 796.3 L562.5 797.1 L563.0 798.0 L563.5 798.9 L564.0 799.7 L564.5 800.6 L565.0 801.4 L565.5 802.2 L566.0 803.0 L566.5 803.9 L567.0 804.7 L567.5 805.4 L568.0 806.2 L568.5 807.0 L569.0 807.8 L569.5 808.5 L570.0 809.2 L570.5 810.0 L571.0 810.7 L571.5 811.4 L572.0 812.0 L572.5 812.7 L573.0 813.4 L573.5 814.0 L574.0 814.7 L574.5 815.3 L575.0 815.9 L575.5 816.6 L576.0 817.2 L576.5 817.8 L577.0 818.4 L577.5 819.0 L578.0 819.6 L578.5 820.2 L579.0 820.7 L579.5 821.3 L580.0 821.8 L580.5 822.4 L581.0 822.9 L581.5 823.4 L582.0 823.9 L582.5 824.3 L583.0 824.8 L583.5 825.2 L584.0 825.6 L584.5 826.0 L585.0 826.4 L585.5 826.8 L586.0 827.2 L586.5 827.6 L587.0 827.9 L587.5 828.3 L588.0 828.6 L588.5 828.9 L589.0 829.2 L589.5 829.6 L590.0 829.9 L590.5 830.1 L591.0 830.4 L591.5 830.7 L592.0 830.9 L592.5 831.2 L593.0 831.4 L593.5 831.6 L594.0 831.8 L594.5 832.0 L595.0 832.2 L595.5 832.4 L596.0 832.6 L596.5 832.7 L597.0 832.9 L597.5 833.0 L598.0 833.2 L598.5 833.3 L599.0 833.4 L599.5 833.6 L600.0 833.7 L600.5 833.7 L601.0 833.8 L601.5 833.9 L602.0 833.9 L602.5 833.9 L603.0 833.9 L603.5 833.9 L604.0 833.8 L604.5 833.7 L605.0 833.6 L605.5 833.5 L606.0 833.4 L606.5 833.3 L607.0 833.2 L607.5 833.0 L608.0 832.9 L608.5 832.7 L609.0 832.6 L609.5 832.4 L610.0 832.2 L610.5 832.1 L611.0 831.9 L611.5 831.7 L612.0 831.5 L612.5 831.3 L613.0 831.1 L613.5 830.9 L614.0 830.7 L614.5 830.5 L615.0 830.3 L615.5 830.0 L616.0 829.8 L616.5 829.5 L617.0 829.2 L617.5 828.9 L618.0 828.6 L618.5 828.2 L619.0 827.9 L619.5 827.5 L620.0 827.1 L620.5 826.7 L621.0 826.2 L621.5 825.8 L622.0 825.4 L622.5 824.9 L623.0 824.5 L623.5 824.1 L624.0 823.6 L624.5 823.2 L625.0 822.8 L625.5 822.4 L626.0 822.1 L626.5 821.7 L627.0 821.3 L627.5 821.0 L628.0 820.6 L628.5 820.3 L629.0 820.0 L629.5 819.6 L630.0 819.3 L630.5 819.0 L631.0 818.7 L631.5 818.3 L632.0 818.0 L632.5 817.7 L633.0 817.3 L633.5 817.0 L634.0 816.7 L634.5 816.3 L635.0 815.9 L635.5 815.6 L636.0 815.2 L636.5 814.8 L637.0 814.3 L637.5 813.9 L638.0 813.5 L638.5 813.0 L639.0 812.5 L639.5 812.0 L640.0 811.5 L640.5 811.0 L641.0 810.4 L641.5 809.9 L642.0 809.3 L642.5 808.7 L643.0 808.1 L643.5 807.5 L644.0 806.9 L644.5 806.3 L645.0 805.7 L645.5 805.2 L646.0 804.6 L646.5 804.0 L647.0 803.4 L647.5 802.9 L648.0 802.3 L648.5 801.8 L649.0 801.3 L649.5 800.8 L650.0 800.3 L650.5 799.8 L651.0 799.4 L651.5 798.9 L652.0 798.5 L652.5 798.1 L653.0 797.6 L653.5 797.2 L654.0 796.8 L654.5 796.4 L655.0 796.0 L655.5 795.6 L656.0 795.2 L656.5 794.8 L657.0 794.4 L657.5 794.0 L658.0 793.6 L658.5 793.3 L659.0 792.9 L659.5 792.5 L660.0 792.1 L660.5 791.7 L661.0 791.4 L661.5 791.0 L662.0 790.6 L662.5 790.2 L663.0 789.9 L663.5 789.5 L664.0 789.1 L664.5 788.8 L665.0 788.4 L665.5 788.0 L666.0 787.6 L666.5 787.3 L667.0 786.9 L667.5 786.5 L668.0 786.2 L668.5 785.8 L669.0 785.5 L669.5 785.1 L670.0 784.8 L670.5 784.4 L671.0 784.1 L671.5 783.7 L672.0 783.4 L672.5 783.1 L673.0 782.7 L673.5 782.4 L674.0 782.1 L674.5 781.8 L675.0 781.5 L675.5 781.2 L676.0 780.9 L676.5 780.6 L677.0 780.4 L677.5 780.1 L678.0 779.8 L678.5 779.5 L679.0 779.3 L679.5 779.0 L680.0 778.7 L680.5 778.5 L681.0 778.2 L681.5 777.9 L682.0 777.7 L682.5 777.4 L683.0 777.2 L683.5 777.0 L684.0 776.7 L684.5 776.5 L685.0 776.3 L685.5 776.1 L686.0 775.9 L686.5 775.7 L687.0 775.5 L687.5 775.3 L688.0 775.1 L688.5 774.9 L689.0 774.7 L689.5 774.5 L690.0 774.4 L690.5 774.2 L691.0 774.0 L691.5 773.9 L692.0 773.7 L692.5 773.6 L693.0 773.4 L693.5 773.3 L694.0 773.1 L694.5 773.0 L695.0 772.8 L695.5 772.7 L696.0 772.5 L696.5 772.4 L697.0 772.3 L697.5 772.1 L698.0 772.0 L698.5 771.9 L699.0 771.8 L699.5 771.6 L700.0 771.5 L700.5 771.4 L701.0 771.3 L701.5 771.1 L702.0 771.0 L702.5 770.9 L703.0 770.8 L703.5 770.7 L704.0 770.6 L704.5 770.5 L705.0 770.4 L705.5 770.2 L706.0 770.1 L706.5 770.0 L707.0 769.9 L707.5 769.8 L708.0 769.7 L708.5 769.7 L709.0 769.6 L709.5 769.5 L710.0 769.4 L710.5 769.3 L711.0 769.2 L711.5 769.2 L712.0 769.1 L712.5 769.0 L713.0 768.9 L713.5 768.9 L714.0 768.8 L714.5 768.7 L715.0 768.7 L715.5 768.6 L716.0 768.6 L716.5 768.5 L717.0 768.4 L717.5 768.4 L718.0 768.3 L718.5 768.3 L719.0 768.2 L719.5 768.2 L720.0 768.1 L720.5 768.1 L721.0 768.0 L721.5 768.0 L722.0 768.0 L722.5 767.9 L723.0 767.9 L723.5 767.8 L724.0 767.8 L724.5 767.8 L725.0 767.8 L725.5 767.7 L726.0 767.7 L726.5 767.7 L727.0 767.7 L727.5 767.6 L728.0 767.6 L728.5 767.6 L729.0 767.6 L729.5 767.5 L730.0 767.5 L730.5 767.5 L731.0 767.5 L731.5 767.4 L732.0 767.4 L732.5 767.4 L733.0 767.4 L733.5 767.4 L734.0 767.4 L734.5 767.3 L735.0 767.3 L735.5 767.3 L736.0 767.3 L736.5 767.3 L737.5 767.3 L738.5 767.3 L740.5 767.3 L785.0 767.2" fill="none" stroke="#b0221a" stroke-width="1.70" stroke-linejoin="round" stroke-dasharray="18.5 8.5" stroke-dashoffset="5.0"/>
<path d="M83.0 767.2 L336.5 767.2 L338.0 767.2 L339.0 767.2 L340.0 767.2 L341.0 767.2 L342.0 767.2 L343.0 767.1 L343.5 767.1 L344.0 767.1 L344.5 767.1 L345.0 767.1 L345.5 767.1 L346.0 767.1 L346.5 767.1 L347.0 767.0 L347.5 767.0 L348.0 767.0 L348.5 767.0 L349.0 767.0 L349.5 766.9 L350.0 766.9 L350.5 766.9 L351.0 766.8 L351.5 766.8 L352.0 766.8 L352.5 766.7 L353.0 766.7 L353.5 766.7 L354.0 766.6 L354.5 766.6 L355.0 766.5 L355.5 766.5 L356.0 766.4 L356.5 766.4 L357.0 766.3 L357.5 766.3 L358.0 766.2 L358.5 766.2 L359.0 766.1 L359.5 766.0 L360.0 766.0 L360.5 765.9 L361.0 765.8 L361.5 765.7 L362.0 765.7 L362.5 765.6 L363.0 765.5 L363.5 765.4 L364.0 765.3 L364.5 765.2 L365.0 765.1 L365.5 765.0 L366.0 764.9 L366.5 764.8 L367.0 764.7 L367.5 764.6 L368.0 764.5 L368.5 764.4 L369.0 764.3 L369.5 764.2 L370.0 764.0 L370.5 763.9 L371.0 763.8 L371.5 763.6 L372.0 763.5 L372.5 763.4 L373.0 763.2 L373.5 763.1 L374.0 762.9 L374.5 762.8 L375.0 762.6 L375.5 762.5 L376.0 762.3 L376.5 762.2 L377.0 762.0 L377.5 761.8 L378.0 761.7 L378.5 761.5 L379.0 761.3 L379.5 761.1 L380.0 760.9 L380.5 760.7 L381.0 760.6 L381.5 760.4 L382.0 760.2 L382.5 759.9 L383.0 759.7 L383.5 759.5 L384.0 759.3 L384.5 759.1 L385.0 758.9 L385.5 758.7 L386.0 758.4 L386.5 758.2 L387.0 758.0 L387.5 757.7 L388.0 757.5 L388.5 757.2 L389.0 757.0 L389.5 756.7 L390.0 756.5 L390.5 756.2 L391.0 755.9 L391.5 755.7 L392.0 755.4 L392.5 755.1 L393.0 754.8 L393.5 754.5 L394.0 754.2 L394.5 753.9 L395.0 753.6 L395.5 753.3 L396.0 753.0 L396.5 752.6 L397.0 752.3 L397.5 752.0 L398.0 751.6 L398.5 751.3 L399.0 750.9 L399.5 750.6 L400.0 750.2 L400.5 749.8 L401.0 749.5 L401.5 749.1 L402.0 748.7 L402.5 748.3 L403.0 747.9 L403.5 747.5 L404.0 747.0 L404.5 746.6 L405.0 746.2 L405.5 745.7 L406.0 745.3 L406.5 744.8 L407.0 744.4 L407.5 743.9 L408.0 743.4 L408.5 742.9 L409.0 742.5 L409.5 742.0 L410.0 741.5 L410.5 741.0 L411.0 740.4 L411.5 739.9 L412.0 739.4 L412.5 738.8 L413.0 738.3 L413.5 737.7 L414.0 737.2 L414.5 736.6 L415.0 736.0 L415.5 735.5 L416.0 734.9 L416.5 734.3 L417.0 733.7 L417.5 733.1 L418.0 732.6 L418.5 732.0 L419.0 731.4 L419.5 730.8 L420.0 730.3 L420.5 729.7 L421.0 729.1 L421.5 728.6 L422.0 728.0 L422.5 727.5 L423.0 726.9 L423.5 726.4 L424.0 725.8 L424.5 725.2 L425.0 724.7 L425.5 724.1 L426.0 723.6 L426.5 723.0 L427.0 722.4 L427.5 721.9 L428.0 721.3 L428.5 720.7 L429.0 720.1 L429.5 719.6 L430.0 719.0 L430.5 718.4 L431.0 717.8 L431.5 717.1 L432.0 716.5 L432.5 715.9 L433.0 715.2 L433.5 714.6 L434.0 714.0 L434.5 713.3 L435.0 712.7 L435.5 712.0 L436.0 711.4 L436.5 710.8 L437.0 710.1 L437.5 709.5 L438.0 708.9 L438.5 708.3 L439.0 707.7 L439.5 707.1 L440.0 706.5 L440.5 706.0 L441.0 705.4 L441.5 704.8 L442.0 704.3 L442.5 703.7 L443.0 703.2 L443.5 702.6 L444.0 702.1 L444.5 701.6 L445.0 701.0 L445.5 700.5 L446.0 700.0 L446.5 699.6 L447.0 699.1 L447.5 698.6 L448.0 698.2 L448.5 697.7 L449.0 697.3 L449.5 696.9 L450.0 696.6 L450.5 696.2 L451.0 695.8 L451.5 695.5 L452.0 695.1 L452.5 694.8 L453.0 694.5 L453.5 694.2 L454.0 693.9 L454.5 693.6 L455.0 693.3 L455.5 693.1 L456.0 692.9 L456.5 692.7 L457.0 692.5 L457.5 692.3 L458.0 692.2 L458.5 692.0 L459.0 691.9 L459.5 691.8 L460.0 691.7 L460.5 691.6 L461.0 691.5 L461.5 691.4 L462.0 691.3 L462.5 691.2 L463.0 691.1 L463.5 691.1 L464.0 691.0 L464.5 691.0 L465.0 690.9 L465.5 690.9 L466.0 690.8 L466.5 690.8 L467.0 690.8 L467.5 690.9 L468.0 690.9 L468.5 691.0 L469.0 691.1 L469.5 691.2 L470.0 691.4 L470.5 691.6 L471.0 691.8 L471.5 692.0 L472.0 692.3 L472.5 692.5 L473.0 692.8 L473.5 693.1 L474.0 693.4 L474.5 693.7 L475.0 694.1 L475.5 694.4 L476.0 694.8 L476.5 695.2 L477.0 695.6 L477.5 696.1 L478.0 696.5 L478.5 697.0 L479.0 697.5 L479.5 698.1 L480.0 698.6 L480.5 699.2 L481.0 699.8 L481.5 700.5 L482.0 701.1 L482.5 701.8 L483.0 702.5 L483.5 703.2 L484.0 703.9 L484.5 704.6 L485.0 705.4 L485.5 706.2 L486.0 707.0 L486.5 707.9 L487.0 708.7 L487.5 709.7 L488.0 710.6 L488.5 711.6 L489.0 712.7 L489.5 713.7 L490.0 714.8 L490.5 715.9 L491.0 717.1 L491.5 718.2 L492.0 719.4 L492.5 720.6 L493.0 721.8 L493.5 723.0 L494.0 724.2 L494.5 725.4 L495.0 726.7 L495.5 727.9 L496.0 729.1 L496.5 730.3 L497.0 731.5 L497.5 732.8 L498.0 734.0 L498.5 735.2 L499.0 736.4 L499.5 737.7 L500.0 738.9 L500.5 740.2 L501.0 741.4 L501.5 742.7 L502.0 744.0 L502.5 745.3 L503.0 746.6 L503.5 747.9 L504.0 749.2 L504.5 750.5 L505.0 751.8 L505.5 753.2 L506.0 754.5 L506.5 755.8 L507.0 757.2 L507.5 758.5 L508.0 759.9 L508.5 761.2 L509.0 762.6 L509.5 763.9 L510.0 765.3 L510.5 766.7 L511.0 768.0 L511.5 769.4 L512.0 770.8 L512.5 772.3 L513.0 773.7 L513.5 775.1 L514.0 776.6 L514.5 778.0 L515.0 779.5 L515.5 780.9 L516.0 782.4 L516.5 783.8 L517.0 785.3 L517.5 786.7 L518.0 788.1 L518.5 789.5 L519.0 790.9 L519.5 792.3 L520.0 793.7 L520.5 795.0 L521.0 796.3 L521.5 797.6 L522.0 798.9 L522.5 800.2 L523.0 801.4 L523.5 802.7 L524.0 803.9 L524.5 805.1 L525.0 806.4 L525.5 807.6 L526.0 808.8 L526.5 809.9 L527.0 811.1 L527.5 812.3 L528.0 813.5 L528.5 814.6 L529.0 815.7 L529.5 816.8 L530.0 817.9 L530.5 819.0 L531.0 820.0 L531.5 821.1 L532.0 822.1 L532.5 823.1 L533.0 824.0 L533.5 825.0 L534.0 825.9 L534.5 826.8 L535.0 827.7 L535.5 828.5 L536.0 829.4 L536.5 830.2 L537.0 831.0 L537.5 831.8 L538.0 832.6 L538.5 833.3 L539.0 834.1 L539.5 834.8 L540.0 835.5 L540.5 836.2 L541.0 836.9 L541.5 837.5 L542.0 838.2 L542.5 838.8 L543.0 839.4 L543.5 839.9 L544.0 840.4 L544.5 840.9 L545.0 841.4 L545.5 841.9 L546.0 842.3 L546.5 842.7 L547.0 843.1 L547.5 843.5 L548.0 843.9 L548.5 844.3 L549.0 844.6 L549.5 844.9 L550.0 845.3 L550.5 845.5 L551.0 845.8 L551.5 846.0 L552.0 846.2 L552.5 846.4 L553.0 846.6 L553.5 846.8 L554.0 846.9 L554.5 847.0 L555.0 847.2 L555.5 847.3 L556.0 847.4 L556.5 847.5 L557.0 847.5 L557.5 847.6 L558.0 847.6 L558.5 847.6 L559.0 847.6 L559.5 847.6 L560.0 847.6 L560.5 847.5 L561.0 847.4 L561.5 847.3 L562.0 847.2 L562.5 847.1 L563.0 846.9 L563.5 846.7 L564.0 846.6 L564.5 846.4 L565.0 846.2 L565.5 846.0 L566.0 845.8 L566.5 845.5 L567.0 845.3 L567.5 845.0 L568.0 844.7 L568.5 844.4 L569.0 844.0 L569.5 843.6 L570.0 843.2 L570.5 842.8 L571.0 842.4 L571.5 841.9 L572.0 841.4 L572.5 840.9 L573.0 840.4 L573.5 839.9 L574.0 839.3 L574.5 838.7 L575.0 838.0 L575.5 837.3 L576.0 836.6 L576.5 835.8 L577.0 835.1 L577.5 834.3 L578.0 833.5 L578.5 832.7 L579.0 831.9 L579.5 831.1 L580.0 830.3 L580.5 829.6 L581.0 828.9 L581.5 828.1 L582.0 827.4 L582.5 826.7 L583.0 826.0 L583.5 825.3 L584.0 824.6 L584.5 824.0 L585.0 823.3 L585.5 822.6 L586.0 821.9 L586.5 821.3 L587.0 820.6 L587.5 819.9 L588.0 819.3 L588.5 818.6 L589.0 818.0 L589.5 817.3 L590.0 816.7 L590.5 816.0 L591.0 815.4 L591.5 814.7 L592.0 814.1 L592.5 813.5 L593.0 812.8 L593.5 812.2 L594.0 811.6 L594.5 811.0 L595.0 810.3 L595.5 809.7 L596.0 809.1 L596.5 808.5 L597.0 807.9 L597.5 807.3 L598.0 806.7 L598.5 806.1 L599.0 805.5 L599.5 804.8 L600.0 804.2 L600.5 803.6 L601.0 803.0 L601.5 802.4 L602.0 801.8 L602.5 801.2 L603.0 800.6 L603.5 800.0 L604.0 799.4 L604.5 798.8 L605.0 798.2 L605.5 797.6 L606.0 797.0 L606.5 796.4 L607.0 795.9 L607.5 795.3 L608.0 794.8 L608.5 794.2 L609.0 793.7 L609.5 793.2 L610.0 792.7 L610.5 792.2 L611.0 791.7 L611.5 791.3 L612.0 790.8 L612.5 790.4 L613.0 789.9 L613.5 789.5 L614.0 789.1 L614.5 788.6 L615.0 788.2 L615.5 787.8 L616.0 787.4 L616.5 787.0 L617.0 786.6 L617.5 786.2 L618.0 785.8 L618.5 785.4 L619.0 785.0 L619.5 784.6 L620.0 784.3 L620.5 783.9 L621.0 783.5 L621.5 783.1 L622.0 782.7 L622.5 782.4 L623.0 782.0 L623.5 781.6 L624.0 781.3 L624.5 780.9 L625.0 780.5 L625.5 780.2 L626.0 779.8 L626.5 779.5 L627.0 779.1 L627.5 778.8 L628.0 778.5 L628.5 778.2 L629.0 777.9 L629.5 777.6 L630.0 777.3 L630.5 777.0 L631.0 776.7 L631.5 776.4 L632.0 776.1 L632.5 775.9 L633.0 775.6 L633.5 775.3 L634.0 775.1 L634.5 774.8 L635.0 774.6 L635.5 774.3 L636.0 774.1 L636.5 773.9 L637.0 773.7 L637.5 773.4 L638.0 773.2 L638.5 773.0 L639.0 772.8 L639.5 772.7 L640.0 772.5 L640.5 772.3 L641.0 772.1 L641.5 772.0 L642.0 771.8 L642.5 771.7 L643.0 771.5 L643.5 771.4 L644.0 771.2 L644.5 771.1 L645.0 771.0 L645.5 770.8 L646.0 770.7 L646.5 770.6 L647.0 770.5 L647.5 770.3 L648.0 770.2 L648.5 770.1 L649.0 770.0 L649.5 769.9 L650.0 769.8 L650.5 769.7 L651.0 769.6 L651.5 769.5 L652.0 769.5 L652.5 769.4 L653.0 769.3 L653.5 769.2 L654.0 769.1 L654.5 769.1 L655.0 769.0 L655.5 768.9 L656.0 768.9 L656.5 768.8 L657.0 768.7 L657.5 768.7 L658.0 768.6 L658.5 768.5 L659.0 768.5 L659.5 768.4 L660.0 768.4 L660.5 768.3 L661.0 768.3 L661.5 768.2 L662.0 768.2 L662.5 768.2 L663.0 768.1 L663.5 768.1 L664.0 768.1 L664.5 768.0 L665.0 768.0 L665.5 768.0 L666.0 767.9 L666.5 767.9 L667.0 767.9 L667.5 767.9 L668.0 767.8 L668.5 767.8 L669.0 767.8 L669.5 767.8 L670.0 767.8 L670.5 767.7 L671.0 767.7 L671.5 767.7 L672.0 767.7 L672.5 767.7 L673.0 767.6 L673.5 767.6 L674.0 767.6 L674.5 767.6 L675.0 767.6 L675.5 767.6 L676.0 767.5 L676.5 767.5 L677.0 767.5 L677.5 767.5 L678.0 767.5 L678.5 767.5 L679.0 767.5 L679.5 767.5 L680.0 767.5 L681.0 767.4 L682.0 767.4 L683.0 767.4 L684.0 767.4 L685.0 767.4 L686.0 767.3 L687.0 767.3 L688.0 767.3 L689.0 767.3 L690.0 767.3 L691.0 767.3 L692.5 767.3 L694.5 767.3 L785.0 767.2" fill="none" stroke="#b0221a" stroke-width="1.70" stroke-linejoin="round"/>
<path d="M83.0 767.2 L321.5 767.2 L323.0 767.2 L324.0 767.2 L325.0 767.2 L326.0 767.2 L327.0 767.2 L328.0 767.2 L329.0 767.1 L330.0 767.1 L330.5 767.1 L331.0 767.1 L331.5 767.1 L332.0 767.1 L332.5 767.1 L333.0 767.1 L333.5 767.0 L334.0 767.0 L334.5 767.0 L335.0 767.0 L335.5 767.0 L336.0 767.0 L336.5 766.9 L337.0 766.9 L337.5 766.9 L338.0 766.9 L338.5 766.8 L339.0 766.8 L339.5 766.8 L340.0 766.7 L340.5 766.7 L341.0 766.6 L341.5 766.6 L342.0 766.5 L342.5 766.4 L343.0 766.4 L343.5 766.3 L344.0 766.2 L344.5 766.1 L345.0 766.0 L345.5 765.9 L346.0 765.9 L346.5 765.8 L347.0 765.7 L347.5 765.6 L348.0 765.5 L348.5 765.4 L349.0 765.2 L349.5 765.1 L350.0 765.0 L350.5 764.9 L351.0 764.8 L351.5 764.7 L352.0 764.6 L352.5 764.5 L353.0 764.4 L353.5 764.2 L354.0 764.1 L354.5 764.0 L355.0 763.9 L355.5 763.7 L356.0 763.6 L356.5 763.4 L357.0 763.3 L357.5 763.1 L358.0 763.0 L358.5 762.8 L359.0 762.6 L359.5 762.4 L360.0 762.2 L360.5 762.0 L361.0 761.7 L361.5 761.5 L362.0 761.3 L362.5 761.0 L363.0 760.8 L363.5 760.5 L364.0 760.2 L364.5 759.9 L365.0 759.7 L365.5 759.4 L366.0 759.1 L366.5 758.8 L367.0 758.5 L367.5 758.2 L368.0 757.8 L368.5 757.5 L369.0 757.2 L369.5 756.9 L370.0 756.5 L370.5 756.1 L371.0 755.8 L371.5 755.4 L372.0 755.0 L372.5 754.6 L373.0 754.2 L373.5 753.8 L374.0 753.4 L374.5 753.0 L375.0 752.6 L375.5 752.1 L376.0 751.7 L376.5 751.2 L377.0 750.8 L377.5 750.3 L378.0 749.8 L378.5 749.3 L379.0 748.8 L379.5 748.3 L380.0 747.7 L380.5 747.2 L381.0 746.6 L381.5 746.1 L382.0 745.5 L382.5 744.9 L383.0 744.3 L383.5 743.8 L384.0 743.2 L384.5 742.6 L385.0 742.0 L385.5 741.4 L386.0 740.8 L386.5 740.2 L387.0 739.5 L387.5 738.9 L388.0 738.3 L388.5 737.6 L389.0 737.0 L389.5 736.3 L390.0 735.7 L390.5 735.0 L391.0 734.3 L391.5 733.6 L392.0 732.9 L392.5 732.2 L393.0 731.5 L393.5 730.7 L394.0 730.0 L394.5 729.2 L395.0 728.4 L395.5 727.7 L396.0 726.9 L396.5 726.1 L397.0 725.2 L397.5 724.4 L398.0 723.6 L398.5 722.8 L399.0 721.9 L399.5 721.1 L400.0 720.2 L400.5 719.3 L401.0 718.5 L401.5 717.6 L402.0 716.7 L402.5 715.8 L403.0 714.9 L403.5 714.0 L404.0 713.1 L404.5 712.2 L405.0 711.3 L405.5 710.4 L406.0 709.5 L406.5 708.6 L407.0 707.7 L407.5 706.8 L408.0 705.9 L408.5 705.0 L409.0 704.1 L409.5 703.3 L410.0 702.4 L410.5 701.5 L411.0 700.7 L411.5 699.8 L412.0 699.0 L412.5 698.1 L413.0 697.3 L413.5 696.5 L414.0 695.6 L414.5 694.8 L415.0 694.0 L415.5 693.2 L416.0 692.4 L416.5 691.6 L417.0 690.8 L417.5 690.0 L418.0 689.2 L418.5 688.5 L419.0 687.7 L419.5 687.0 L420.0 686.2 L420.5 685.5 L421.0 684.8 L421.5 684.1 L422.0 683.5 L422.5 682.8 L423.0 682.2 L423.5 681.6 L424.0 681.0 L424.5 680.4 L425.0 679.8 L425.5 679.3 L426.0 678.8 L426.5 678.3 L427.0 677.8 L427.5 677.4 L428.0 677.0 L428.5 676.6 L429.0 676.2 L429.5 675.9 L430.0 675.6 L430.5 675.3 L431.0 675.1 L431.5 674.8 L432.0 674.6 L432.5 674.5 L433.0 674.3 L433.5 674.2 L434.0 674.1 L434.5 674.0 L435.0 673.9 L435.5 673.9 L436.0 673.9 L436.5 673.9 L437.0 673.9 L437.5 673.9 L438.0 674.0 L438.5 674.1 L439.0 674.2 L439.5 674.3 L440.0 674.5 L440.5 674.7 L441.0 674.9 L441.5 675.1 L442.0 675.4 L442.5 675.7 L443.0 676.0 L443.5 676.4 L444.0 676.8 L444.5 677.3 L445.0 677.7 L445.5 678.3 L446.0 678.8 L446.5 679.4 L447.0 680.1 L447.5 680.7 L448.0 681.4 L448.5 682.1 L449.0 682.9 L449.5 683.7 L450.0 684.6 L450.5 685.5 L451.0 686.5 L451.5 687.5 L452.0 688.6 L452.5 689.8 L453.0 691.1 L453.5 692.4 L454.0 693.8 L454.5 695.3 L455.0 696.9 L455.5 698.6 L456.0 700.3 L456.5 702.1 L457.0 703.9 L457.5 705.7 L458.0 707.5 L458.5 709.3 L459.0 711.1 L459.5 712.9 L460.0 714.8 L460.5 716.6 L461.0 718.4 L461.5 720.2 L462.0 722.1 L462.5 723.9 L463.0 725.7 L463.5 727.5 L464.0 729.3 L464.5 731.2 L465.0 733.0 L465.5 734.8 L466.0 736.6 L466.5 738.4 L467.0 740.2 L467.5 742.0 L468.0 743.8 L468.5 745.6 L469.0 747.4 L469.5 749.3 L470.0 751.1 L470.5 752.9 L471.0 754.7 L471.5 756.6 L472.0 758.5 L472.5 760.4 L473.0 762.4 L473.5 764.3 L474.0 766.3 L474.5 768.3 L475.0 770.3 L475.5 772.3 L476.0 774.2 L476.5 776.2 L477.0 778.1 L477.5 780.0 L478.0 781.9 L478.5 783.7 L479.0 785.5 L479.5 787.3 L480.0 789.1 L480.5 790.9 L481.0 792.7 L481.5 794.5 L482.0 796.2 L482.5 798.0 L483.0 799.7 L483.5 801.5 L484.0 803.2 L484.5 804.9 L485.0 806.6 L485.5 808.3 L486.0 810.0 L486.5 811.6 L487.0 813.3 L487.5 814.9 L488.0 816.6 L488.5 818.2 L489.0 819.8 L489.5 821.4 L490.0 823.0 L490.5 824.6 L491.0 826.2 L491.5 827.7 L492.0 829.3 L492.5 830.8 L493.0 832.3 L493.5 833.8 L494.0 835.3 L494.5 836.8 L495.0 838.3 L495.5 839.7 L496.0 841.1 L496.5 842.5 L497.0 843.9 L497.5 845.3 L498.0 846.6 L498.5 847.9 L499.0 849.2 L499.5 850.4 L500.0 851.6 L500.5 852.8 L501.0 853.9 L501.5 855.0 L502.0 856.1 L502.5 857.1 L503.0 858.1 L503.5 859.0 L504.0 859.9 L504.5 860.7 L505.0 861.5 L505.5 862.2 L506.0 862.9 L506.5 863.5 L507.0 864.0 L507.5 864.4 L508.0 864.9 L508.5 865.2 L509.0 865.6 L509.5 865.9 L510.0 866.1 L510.5 866.3 L511.0 866.5 L511.5 866.6 L512.0 866.6 L512.5 866.7 L513.0 866.6 L513.5 866.6 L514.0 866.5 L514.5 866.4 L515.0 866.3 L515.5 866.1 L516.0 866.0 L516.5 865.8 L517.0 865.6 L517.5 865.3 L518.0 865.1 L518.5 864.8 L519.0 864.4 L519.5 864.1 L520.0 863.6 L520.5 863.2 L521.0 862.7 L521.5 862.2 L522.0 861.6 L522.5 861.0 L523.0 860.4 L523.5 859.8 L524.0 859.2 L524.5 858.5 L525.0 857.9 L525.5 857.2 L526.0 856.5 L526.5 855.8 L527.0 855.0 L527.5 854.2 L528.0 853.5 L528.5 852.7 L529.0 851.9 L529.5 851.0 L530.0 850.2 L530.5 849.3 L531.0 848.5 L531.5 847.6 L532.0 846.7 L532.5 845.8 L533.0 844.9 L533.5 844.0 L534.0 843.0 L534.5 842.1 L535.0 841.1 L535.5 840.2 L536.0 839.2 L536.5 838.2 L537.0 837.3 L537.5 836.3 L538.0 835.3 L538.5 834.3 L539.0 833.3 L539.5 832.3 L540.0 831.3 L540.5 830.3 L541.0 829.3 L541.5 828.3 L542.0 827.3 L542.5 826.3 L543.0 825.3 L543.5 824.3 L544.0 823.3 L544.5 822.3 L545.0 821.2 L545.5 820.2 L546.0 819.2 L546.5 818.2 L547.0 817.2 L547.5 816.2 L548.0 815.2 L548.5 814.2 L549.0 813.2 L549.5 812.2 L550.0 811.2 L550.5 810.2 L551.0 809.1 L551.5 808.1 L552.0 807.2 L552.5 806.2 L553.0 805.2 L553.5 804.3 L554.0 803.3 L554.5 802.4 L555.0 801.5 L555.5 800.6 L556.0 799.7 L556.5 798.9 L557.0 798.0 L557.5 797.2 L558.0 796.4 L558.5 795.6 L559.0 794.8 L559.5 794.1 L560.0 793.3 L560.5 792.6 L561.0 791.9 L561.5 791.2 L562.0 790.5 L562.5 789.8 L563.0 789.2 L563.5 788.5 L564.0 787.9 L564.5 787.2 L565.0 786.6 L565.5 786.0 L566.0 785.5 L566.5 784.9 L567.0 784.4 L567.5 783.8 L568.0 783.3 L568.5 782.8 L569.0 782.3 L569.5 781.9 L570.0 781.4 L570.5 780.9 L571.0 780.5 L571.5 780.1 L572.0 779.7 L572.5 779.3 L573.0 778.9 L573.5 778.5 L574.0 778.1 L574.5 777.7 L575.0 777.4 L575.5 777.0 L576.0 776.7 L576.5 776.4 L577.0 776.0 L577.5 775.7 L578.0 775.4 L578.5 775.1 L579.0 774.8 L579.5 774.5 L580.0 774.2 L580.5 774.0 L581.0 773.7 L581.5 773.4 L582.0 773.2 L582.5 773.0 L583.0 772.7 L583.5 772.5 L584.0 772.3 L584.5 772.1 L585.0 771.9 L585.5 771.7 L586.0 771.5 L586.5 771.3 L587.0 771.2 L587.5 771.0 L588.0 770.8 L588.5 770.7 L589.0 770.5 L589.5 770.4 L590.0 770.2 L590.5 770.1 L591.0 769.9 L591.5 769.8 L592.0 769.7 L592.5 769.5 L593.0 769.4 L593.5 769.3 L594.0 769.2 L594.5 769.0 L595.0 768.9 L595.5 768.8 L596.0 768.7 L596.5 768.6 L597.0 768.4 L597.5 768.3 L598.0 768.2 L598.5 768.1 L599.0 768.0 L599.5 767.9 L600.0 767.8 L600.5 767.7 L601.0 767.6 L601.5 767.5 L602.0 767.5 L602.5 767.4 L603.0 767.3 L603.5 767.2 L604.0 767.1 L604.5 767.1 L605.0 767.0 L605.5 767.0 L606.0 766.9 L606.5 766.8 L607.0 766.8 L607.5 766.7 L608.0 766.7 L608.5 766.6 L609.0 766.6 L609.5 766.5 L610.0 766.5 L610.5 766.4 L611.0 766.4 L611.5 766.4 L612.0 766.3 L612.5 766.3 L613.0 766.3 L613.5 766.2 L614.0 766.2 L614.5 766.2 L615.0 766.1 L615.5 766.1 L616.0 766.1 L616.5 766.0 L617.0 766.0 L617.5 766.0 L618.0 766.0 L618.5 765.9 L619.0 765.9 L619.5 765.9 L620.0 765.9 L620.5 765.9 L621.0 765.8 L621.5 765.8 L622.0 765.8 L622.5 765.8 L623.0 765.8 L624.0 765.8 L627.5 765.8 L628.0 765.8 L628.5 765.8 L629.0 765.8 L629.5 765.8 L630.0 765.8 L630.5 765.9 L631.0 765.9 L631.5 765.9 L632.0 765.9 L632.5 765.9 L633.0 765.9 L633.5 766.0 L634.0 766.0 L634.5 766.0 L635.0 766.0 L635.5 766.1 L636.0 766.1 L636.5 766.1 L637.0 766.1 L637.5 766.1 L638.0 766.2 L638.5 766.2 L639.0 766.2 L639.5 766.2 L640.0 766.3 L640.5 766.3 L641.0 766.3 L641.5 766.3 L642.0 766.3 L642.5 766.4 L643.0 766.4 L643.5 766.4 L644.0 766.5 L644.5 766.5 L645.0 766.5 L645.5 766.6 L646.0 766.6 L646.5 766.6 L647.0 766.6 L647.5 766.7 L648.0 766.7 L648.5 766.7 L649.0 766.8 L649.5 766.8 L650.0 766.8 L650.5 766.9 L651.0 766.9 L651.5 766.9 L652.0 767.0 L652.5 767.0 L653.0 767.0 L653.5 767.1 L654.0 767.1 L654.5 767.1 L655.0 767.1 L655.5 767.1 L656.0 767.2 L656.5 767.2 L657.0 767.2 L657.5 767.2 L658.0 767.2 L659.0 767.2 L660.5 767.2 L785.0 767.2" fill="none" stroke="#0c0c0a" stroke-width="3.50" stroke-linejoin="round"/>
<path d="M83.0 767.2 L316.0 767.2 L317.0 767.2 L317.5 767.2 L318.0 767.2 L318.5 767.2 L319.0 767.2 L319.5 767.2 L320.0 767.1 L320.5 767.1 L321.0 767.1 L321.5 767.1 L322.0 767.1 L322.5 767.0 L323.0 767.0 L323.5 767.0 L324.0 766.9 L324.5 766.9 L325.0 766.8 L325.5 766.8 L326.0 766.7 L326.5 766.6 L327.0 766.6 L327.5 766.5 L328.0 766.4 L328.5 766.3 L329.0 766.2 L329.5 766.1 L330.0 766.0 L330.5 765.9 L331.0 765.8 L331.5 765.7 L332.0 765.6 L332.5 765.4 L333.0 765.3 L333.5 765.2 L334.0 765.0 L334.5 764.9 L335.0 764.7 L335.5 764.6 L336.0 764.4 L336.5 764.3 L337.0 764.1 L337.5 764.0 L338.0 763.8 L338.5 763.6 L339.0 763.4 L339.5 763.2 L340.0 763.0 L340.5 762.8 L341.0 762.5 L341.5 762.3 L342.0 762.0 L342.5 761.7 L343.0 761.5 L343.5 761.2 L344.0 760.8 L344.5 760.5 L345.0 760.2 L345.5 759.8 L346.0 759.5 L346.5 759.1 L347.0 758.7 L347.5 758.3 L348.0 757.9 L348.5 757.5 L349.0 757.1 L349.5 756.7 L350.0 756.2 L350.5 755.8 L351.0 755.3 L351.5 754.8 L352.0 754.4 L352.5 753.9 L353.0 753.4 L353.5 752.8 L354.0 752.3 L354.5 751.7 L355.0 751.1 L355.5 750.5 L356.0 749.9 L356.5 749.2 L357.0 748.5 L357.5 747.9 L358.0 747.1 L358.5 746.4 L359.0 745.7 L359.5 745.0 L360.0 744.3 L360.5 743.6 L361.0 742.9 L361.5 742.2 L362.0 741.4 L362.5 740.7 L363.0 740.0 L363.5 739.3 L364.0 738.5 L364.5 737.7 L365.0 736.9 L365.5 736.1 L366.0 735.3 L366.5 734.4 L367.0 733.5 L367.5 732.6 L368.0 731.7 L368.5 730.7 L369.0 729.7 L369.5 728.6 L370.0 727.6 L370.5 726.4 L371.0 725.3 L371.5 724.1 L372.0 722.8 L372.5 721.5 L373.0 720.2 L373.5 718.9 L374.0 717.5 L374.5 716.1 L375.0 714.7 L375.5 713.2 L376.0 711.8 L376.5 710.3 L377.0 708.9 L377.5 707.4 L378.0 706.0 L378.5 704.5 L379.0 703.1 L379.5 701.7 L380.0 700.3 L380.5 698.9 L381.0 697.4 L381.5 696.0 L382.0 694.6 L382.5 693.2 L383.0 691.8 L383.5 690.4 L384.0 688.9 L384.5 687.5 L385.0 686.1 L385.5 684.7 L386.0 683.3 L386.5 681.9 L387.0 680.6 L387.5 679.2 L388.0 677.9 L388.5 676.6 L389.0 675.3 L389.5 674.1 L390.0 672.8 L390.5 671.6 L391.0 670.4 L391.5 669.2 L392.0 668.0 L392.5 666.8 L393.0 665.7 L393.5 664.6 L394.0 663.5 L394.5 662.4 L395.0 661.3 L395.5 660.3 L396.0 659.4 L396.5 658.4 L397.0 657.5 L397.5 656.6 L398.0 655.8 L398.5 655.0 L399.0 654.2 L399.5 653.4 L400.0 652.7 L400.5 652.1 L401.0 651.5 L401.5 650.9 L402.0 650.4 L402.5 650.0 L403.0 649.6 L403.5 649.3 L404.0 649.0 L404.5 648.7 L405.0 648.5 L405.5 648.3 L406.0 648.2 L406.5 648.1 L407.0 648.0 L407.5 648.0 L408.0 648.0 L408.5 648.1 L409.0 648.3 L409.5 648.5 L410.0 648.7 L410.5 649.0 L411.0 649.3 L411.5 649.7 L412.0 650.1 L412.5 650.6 L413.0 651.2 L413.5 651.9 L414.0 652.7 L414.5 653.5 L415.0 654.5 L415.5 655.6 L416.0 656.7 L416.5 658.0 L417.0 659.3 L417.5 660.7 L418.0 662.2 L418.5 663.9 L419.0 665.6 L419.5 667.5 L420.0 669.5 L420.5 671.5 L421.0 673.7 L421.5 675.9 L422.0 678.2 L422.5 680.6 L423.0 683.0 L423.5 685.5 L424.0 688.1 L424.5 690.7 L425.0 693.5 L425.5 696.2 L426.0 699.1 L426.5 702.0 L427.0 704.9 L427.5 707.9 L428.0 710.9 L428.5 714.0 L429.0 717.1 L429.5 720.2 L430.0 723.5 L430.5 726.8 L431.0 730.2 L431.5 733.7 L432.0 737.3 L432.5 741.0 L433.0 744.9 L433.5 748.8 L434.0 752.8 L434.5 756.7 L435.0 760.6 L435.5 764.4 L436.0 768.0 L436.5 771.4 L437.0 774.7 L437.5 777.9 L438.0 780.9 L438.5 784.0 L439.0 787.0 L439.5 790.0 L440.0 793.1 L440.5 796.2 L441.0 799.4 L441.5 802.6 L442.0 805.9 L442.5 809.1 L443.0 812.4 L443.5 815.6 L444.0 818.8 L444.5 821.9 L445.0 825.0 L445.5 828.0 L446.0 831.0 L446.5 833.9 L447.0 836.7 L447.5 839.5 L448.0 842.3 L448.5 844.9 L449.0 847.5 L449.5 850.0 L450.0 852.4 L450.5 854.7 L451.0 856.9 L451.5 859.1 L452.0 861.2 L452.5 863.2 L453.0 865.2 L453.5 867.1 L454.0 869.0 L454.5 870.8 L455.0 872.6 L455.5 874.3 L456.0 876.0 L456.5 877.7 L457.0 879.3 L457.5 880.8 L458.0 882.3 L458.5 883.7 L459.0 885.0 L459.5 886.2 L460.0 887.4 L460.5 888.4 L461.0 889.4 L461.5 890.4 L462.0 891.2 L462.5 892.0 L463.0 892.7 L463.5 893.4 L464.0 894.0 L464.5 894.5 L465.0 895.0 L465.5 895.3 L466.0 895.6 L466.5 895.9 L467.0 896.0 L467.5 896.1 L468.0 896.1 L468.5 896.1 L469.0 896.0 L469.5 895.8 L470.0 895.5 L470.5 895.3 L471.0 895.0 L471.5 894.6 L472.0 894.2 L472.5 893.7 L473.0 893.1 L473.5 892.5 L474.0 891.8 L474.5 891.0 L475.0 890.2 L475.5 889.3 L476.0 888.3 L476.5 887.2 L477.0 886.1 L477.5 884.9 L478.0 883.7 L478.5 882.4 L479.0 881.0 L479.5 879.5 L480.0 878.0 L480.5 876.5 L481.0 875.0 L481.5 873.4 L482.0 871.9 L482.5 870.4 L483.0 868.9 L483.5 867.4 L484.0 865.9 L484.5 864.4 L485.0 863.0 L485.5 861.5 L486.0 860.1 L486.5 858.6 L487.0 857.2 L487.5 855.8 L488.0 854.3 L488.5 852.9 L489.0 851.5 L489.5 850.1 L490.0 848.7 L490.5 847.3 L491.0 845.9 L491.5 844.5 L492.0 843.1 L492.5 841.7 L493.0 840.3 L493.5 838.9 L494.0 837.5 L494.5 836.1 L495.0 834.7 L495.5 833.4 L496.0 832.0 L496.5 830.6 L497.0 829.3 L497.5 827.9 L498.0 826.6 L498.5 825.2 L499.0 823.9 L499.5 822.6 L500.0 821.3 L500.5 819.9 L501.0 818.6 L501.5 817.3 L502.0 816.0 L502.5 814.8 L503.0 813.5 L503.5 812.2 L504.0 811.0 L504.5 809.8 L505.0 808.6 L505.5 807.5 L506.0 806.4 L506.5 805.3 L507.0 804.3 L507.5 803.3 L508.0 802.3 L508.5 801.3 L509.0 800.4 L509.5 799.4 L510.0 798.5 L510.5 797.6 L511.0 796.7 L511.5 795.9 L512.0 795.0 L512.5 794.1 L513.0 793.3 L513.5 792.4 L514.0 791.6 L514.5 790.7 L515.0 789.9 L515.5 789.0 L516.0 788.2 L516.5 787.4 L517.0 786.6 L517.5 785.8 L518.0 785.1 L518.5 784.4 L519.0 783.7 L519.5 783.0 L520.0 782.4 L520.5 781.8 L521.0 781.2 L521.5 780.6 L522.0 780.1 L522.5 779.5 L523.0 779.0 L523.5 778.5 L524.0 778.1 L524.5 777.6 L525.0 777.1 L525.5 776.7 L526.0 776.3 L526.5 775.9 L527.0 775.5 L527.5 775.1 L528.0 774.8 L528.5 774.4 L529.0 774.1 L529.5 773.8 L530.0 773.4 L530.5 773.1 L531.0 772.8 L531.5 772.6 L532.0 772.3 L532.5 772.1 L533.0 771.8 L533.5 771.6 L534.0 771.4 L534.5 771.2 L535.0 770.9 L535.5 770.8 L536.0 770.6 L536.5 770.4 L537.0 770.2 L537.5 770.0 L538.0 769.9 L538.5 769.7 L539.0 769.5 L539.5 769.4 L540.0 769.2 L540.5 769.1 L541.0 768.9 L541.5 768.8 L542.0 768.7 L542.5 768.6 L543.0 768.5 L543.5 768.4 L544.0 768.3 L544.5 768.2 L545.0 768.1 L545.5 768.1 L546.0 768.0 L546.5 767.9 L547.0 767.9 L547.5 767.8 L548.0 767.8 L548.5 767.7 L549.0 767.7 L549.5 767.6 L550.0 767.6 L550.5 767.5 L551.0 767.5 L551.5 767.4 L552.0 767.4 L552.5 767.4 L553.0 767.3 L553.5 767.3 L554.0 767.3 L554.5 767.3 L555.0 767.3 L556.0 767.3 L559.0 767.3 L785.0 767.2" fill="none" stroke="#2a3082" stroke-width="1.70" stroke-linejoin="round"/>
<path d="M83.0 767.2 L309.0 767.2 L310.0 767.2 L310.5 767.2 L311.0 767.2 L311.5 767.2 L312.0 767.2 L312.5 767.2 L313.0 767.1 L313.5 767.1 L314.0 767.1 L314.5 767.0 L315.0 767.0 L315.5 766.9 L316.0 766.8 L316.5 766.8 L317.0 766.7 L317.5 766.5 L318.0 766.4 L318.5 766.2 L319.0 766.0 L319.5 765.7 L320.0 765.5 L320.5 765.2 L321.0 764.9 L321.5 764.5 L322.0 764.2 L322.5 763.8 L323.0 763.5 L323.5 763.1 L324.0 762.8 L324.5 762.4 L325.0 762.0 L325.5 761.6 L326.0 761.3 L326.5 760.9 L327.0 760.5 L327.5 760.1 L328.0 759.7 L328.5 759.3 L329.0 758.9 L329.5 758.5 L330.0 758.1 L330.5 757.7 L331.0 757.3 L331.5 756.9 L332.0 756.5 L332.5 756.1 L333.0 755.6 L333.5 755.1 L334.0 754.5 L334.5 753.9 L335.0 753.2 L335.5 752.5 L336.0 751.7 L336.5 750.8 L337.0 749.9 L337.5 748.9 L338.0 747.9 L338.5 746.9 L339.0 745.9 L339.5 744.8 L340.0 743.7 L340.5 742.5 L341.0 741.4 L341.5 740.2 L342.0 739.0 L342.5 737.8 L343.0 736.6 L343.5 735.3 L344.0 734.0 L344.5 732.6 L345.0 731.1 L345.5 729.5 L346.0 727.9 L346.5 726.2 L347.0 724.4 L347.5 722.5 L348.0 720.6 L348.5 718.7 L349.0 716.6 L349.5 714.6 L350.0 712.5 L350.5 710.4 L351.0 708.2 L351.5 706.1 L352.0 703.8 L352.5 701.6 L353.0 699.4 L353.5 697.1 L354.0 694.8 L354.5 692.5 L355.0 690.1 L355.5 687.8 L356.0 685.4 L356.5 682.9 L357.0 680.5 L357.5 678.0 L358.0 675.5 L358.5 673.0 L359.0 670.4 L359.5 667.9 L360.0 665.4 L360.5 662.8 L361.0 660.3 L361.5 657.8 L362.0 655.3 L362.5 652.7 L363.0 650.2 L363.5 647.7 L364.0 645.2 L364.5 642.7 L365.0 640.2 L365.5 637.7 L366.0 635.3 L366.5 632.9 L367.0 630.6 L367.5 628.4 L368.0 626.2 L368.5 624.1 L369.0 622.1 L369.5 620.2 L370.0 618.3 L370.5 616.6 L371.0 615.0 L371.5 613.4 L372.0 612.1 L372.5 610.8 L373.0 609.7 L373.5 608.6 L374.0 607.7 L374.5 607.0 L375.0 606.4 L375.5 605.9 L376.0 605.6 L376.5 605.5 L377.0 605.5 L377.5 605.7 L378.0 606.0 L378.5 606.5 L379.0 607.0 L379.5 607.7 L380.0 608.6 L380.5 609.6 L381.0 610.8 L381.5 612.3 L382.0 613.9 L382.5 615.7 L383.0 617.8 L383.5 620.1 L384.0 622.5 L384.5 625.3 L385.0 628.2 L385.5 631.4 L386.0 634.7 L386.5 638.3 L387.0 642.1 L387.5 646.0 L388.0 650.2 L388.5 654.5 L389.0 659.0 L389.5 663.7 L390.0 668.7 L390.5 673.7 L391.0 679.0 L391.5 684.5 L392.0 690.0 L392.5 695.7 L393.0 701.5 L393.5 707.3 L394.0 713.2 L394.5 719.1 L395.0 724.8 L395.5 730.5 L396.0 736.0 L396.5 741.2 L397.0 746.2 L397.5 750.9 L398.0 755.5 L398.5 759.8 L399.0 764.2 L399.5 768.5 L400.0 773.0 L400.5 777.7 L401.0 782.5 L401.5 787.6 L402.0 792.8 L402.5 798.1 L403.0 803.6 L403.5 809.1 L404.0 814.7 L404.5 820.4 L405.0 826.0 L405.5 831.6 L406.0 837.2 L406.5 842.8 L407.0 848.3 L407.5 853.8 L408.0 859.2 L408.5 864.4 L409.0 869.6 L409.5 874.7 L410.0 879.6 L410.5 884.4 L411.0 889.1 L411.5 893.6 L412.0 898.0 L412.5 902.2 L413.0 906.3 L413.5 910.2 L414.0 913.9 L414.5 917.5 L415.0 920.8 L415.5 924.0 L416.0 926.9 L416.5 929.5 L417.0 931.9 L417.5 934.0 L418.0 935.9 L418.5 937.6 L419.0 939.0 L419.5 940.3 L420.0 941.5 L420.5 942.4 L421.0 943.2 L421.5 943.7 L422.0 944.1 L422.5 944.3 L423.0 944.4 L423.5 944.2 L424.0 943.9 L424.5 943.4 L425.0 942.9 L425.5 942.2 L426.0 941.4 L426.5 940.5 L427.0 939.5 L427.5 938.4 L428.0 937.1 L428.5 935.7 L429.0 934.2 L429.5 932.5 L430.0 930.7 L430.5 928.7 L431.0 926.6 L431.5 924.5 L432.0 922.2 L432.5 919.9 L433.0 917.5 L433.5 915.0 L434.0 912.5 L434.5 909.8 L435.0 907.1 L435.5 904.3 L436.0 901.4 L436.5 898.5 L437.0 895.5 L437.5 892.5 L438.0 889.4 L438.5 886.2 L439.0 883.0 L439.5 879.8 L440.0 876.5 L440.5 873.2 L441.0 870.0 L441.5 866.8 L442.0 863.6 L442.5 860.5 L443.0 857.5 L443.5 854.5 L444.0 851.6 L444.5 848.7 L445.0 845.9 L445.5 843.2 L446.0 840.6 L446.5 838.0 L447.0 835.6 L447.5 833.2 L448.0 830.9 L448.5 828.7 L449.0 826.6 L449.5 824.6 L450.0 822.6 L450.5 820.7 L451.0 818.8 L451.5 817.0 L452.0 815.2 L452.5 813.4 L453.0 811.7 L453.5 810.0 L454.0 808.3 L454.5 806.7 L455.0 805.0 L455.5 803.4 L456.0 801.8 L456.5 800.2 L457.0 798.7 L457.5 797.2 L458.0 795.8 L458.5 794.4 L459.0 793.0 L459.5 791.7 L460.0 790.5 L460.5 789.3 L461.0 788.2 L461.5 787.1 L462.0 786.0 L462.5 785.0 L463.0 784.0 L463.5 783.1 L464.0 782.1 L464.5 781.2 L465.0 780.3 L465.5 779.4 L466.0 778.6 L466.5 777.7 L467.0 777.0 L467.5 776.2 L468.0 775.6 L468.5 775.0 L469.0 774.5 L469.5 774.0 L470.0 773.6 L470.5 773.2 L471.0 772.9 L471.5 772.6 L472.0 772.3 L472.5 772.1 L473.0 771.9 L473.5 771.7 L474.0 771.5 L474.5 771.2 L475.0 771.0 L475.5 770.8 L476.0 770.6 L476.5 770.4 L477.0 770.2 L477.5 769.9 L478.0 769.7 L478.5 769.5 L479.0 769.3 L479.5 769.1 L480.0 768.9 L480.5 768.7 L481.0 768.6 L481.5 768.4 L482.0 768.3 L482.5 768.1 L483.0 768.0 L483.5 767.9 L484.0 767.8 L484.5 767.7 L485.0 767.6 L485.5 767.6 L486.0 767.5 L486.5 767.5 L487.0 767.4 L487.5 767.4 L488.0 767.4 L488.5 767.3 L489.0 767.3 L489.5 767.3 L490.0 767.3 L490.5 767.2 L491.0 767.2 L491.5 767.2 L492.0 767.2 L492.5 767.2 L493.0 767.2 L493.5 767.1 L494.0 767.1 L494.5 767.1 L495.0 767.1 L496.0 767.1 L497.0 767.1 L498.5 767.1 L501.0 767.1 L501.5 767.1 L502.0 767.1 L502.5 767.1 L503.0 767.1 L503.5 767.1 L504.0 767.2 L504.5 767.2 L505.0 767.2 L505.5 767.2 L506.0 767.2 L506.5 767.2 L507.5 767.2 L509.0 767.2 L785.0 767.2" fill="none" stroke="#2a3082" stroke-width="1.70" stroke-linejoin="round" stroke-dasharray="18.5 8.5" stroke-dashoffset="6.8"/>
<text transform="translate(74.80 574.60) scale(1.020 1)" text-anchor="end" class="t">2</text>
<text transform="translate(74.80 676.85) scale(1.020 1)" text-anchor="end" class="t">1</text>
<text transform="translate(74.80 781.00) scale(1.020 1)" text-anchor="end" class="t">0</text>
<text transform="translate(74.80 877.35) scale(1.020 1)" text-anchor="end" class="t">1</text>
<text transform="translate(34.83 884.09) scale(1.188 1.375)" class="m">−</text>
<text transform="translate(74.80 976.00) scale(1.020 1)" text-anchor="end" class="t">2</text>
<text transform="translate(34.83 983.74) scale(1.188 1.375)" class="m">−</text>
<text transform="translate(81.50 1004.00) scale(1.020 1)" text-anchor="middle" class="t">25</text>
<text transform="translate(316.60 1004.00) scale(1.020 1)" text-anchor="middle" class="t">30</text>
<text transform="translate(552.10 1004.00) scale(1.020 1)" text-anchor="middle" class="t">35</text>
<text transform="translate(784.40 1004.00) scale(1.020 1)" text-anchor="middle" class="t">40</text>
<text transform="translate(27.30 934.10) rotate(-90)" class="t l" textLength="89.10" lengthAdjust="spacingAndGlyphs">sound</text>
<text transform="translate(27.30 831.90) rotate(-90)" class="t l" textLength="125.90" lengthAdjust="spacingAndGlyphs">pressure</text>
<text transform="translate(27.30 692.90) rotate(-90)" class="t l" textLength="95.50" lengthAdjust="spacingAndGlyphs">(mPa)</text>
<text x="362.20" y="1038.30" class="t l" textLength="67.50" lengthAdjust="spacingAndGlyphs">time</text>
<text x="445.10" y="1038.30" class="t l" textLength="66.10" lengthAdjust="spacingAndGlyphs">(ms)</text>
<text x="181.6" y="1087.2" class="s">(b)</text>
<text x="233.80" y="1087.20" class="t l" textLength="136.50" lengthAdjust="spacingAndGlyphs">Gaussian</text>
<text x="384.40" y="1087.20" class="t l" textLength="178.20" lengthAdjust="spacingAndGlyphs">distribution</text>
<text x="576.00" y="1087.20" class="t l" textLength="110.40" lengthAdjust="spacingAndGlyphs">driving</text>
</g>
</svg>
</body></html>
